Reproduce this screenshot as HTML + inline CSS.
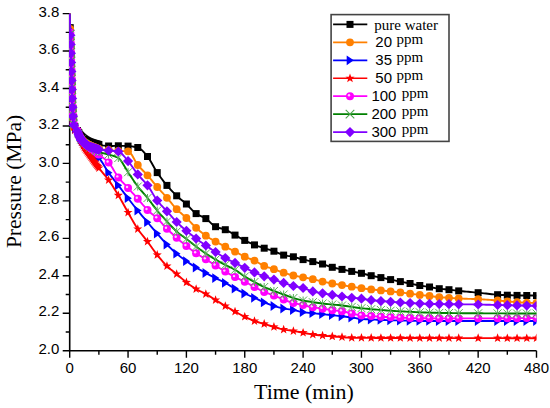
<!DOCTYPE html>
<html><head><meta charset="utf-8"><style>
html,body{margin:0;padding:0;background:#fff;width:550px;height:408px;overflow:hidden}
svg{display:block}
.serif{font-family:"Liberation Serif",serif}
</style></head><body>
<svg width="550" height="408" viewBox="0 0 550 408">
<defs><clipPath id="pc"><rect x="69" y="13.6" width="467.5" height="337.1"/></clipPath></defs>
<rect width="550" height="408" fill="#fff"/>
<path d="M69.7 13.6V350.7H536.5" fill="none" stroke="#000" stroke-width="1.6"/>
<path d="M62.7 350.7H69.7 M65.7 331.97H69.7 M62.7 313.24H69.7 M65.7 294.52H69.7 M62.7 275.79H69.7 M65.7 257.06H69.7 M62.7 238.33H69.7 M65.7 219.61H69.7 M62.7 200.88H69.7 M65.7 182.15H69.7 M62.7 163.42H69.7 M65.7 144.69H69.7 M62.7 125.97H69.7 M65.7 107.24H69.7 M62.7 88.51H69.7 M65.7 69.78H69.7 M62.7 51.06H69.7 M65.7 32.33H69.7 M62.7 13.6H69.7 M69.7 350.7V357.7 M98.88 350.7V354.7 M128.05 350.7V357.7 M157.23 350.7V354.7 M186.4 350.7V357.7 M215.57 350.7V354.7 M244.75 350.7V357.7 M273.93 350.7V354.7 M303.1 350.7V357.7 M332.27 350.7V354.7 M361.45 350.7V357.7 M390.62 350.7V354.7 M419.8 350.7V357.7 M448.98 350.7V354.7 M478.15 350.7V357.7 M507.32 350.7V354.7 M536.5 350.7V357.7" fill="none" stroke="#000" stroke-width="1.4"/>
<g clip-path="url(#pc)">
<polyline points="69.7,13.6 69.94,19.95 70.19,26.57 70.43,33.44 70.67,40.55 70.92,47.96 71.16,55.74 71.4,63.74 71.64,71.79 71.89,79.96 72.13,88.26 72.37,95.49 72.62,101.91 72.86,106.75 73.1,110.78 73.35,114.26 73.59,117.15 73.83,119.41 74.08,121.38 74.32,123.2 74.56,124.81 74.81,126.17 75.05,127.23 75.29,127.95 75.53,128.4 75.78,128.76 76.02,129.05 76.26,129.29 76.51,129.51 76.75,129.71 76.99,129.94 77.24,130.19 77.48,130.5 77.72,130.88 77.97,131.31 78.21,131.79 78.45,132.27 78.7,132.76 78.94,133.22 79.18,133.64 79.42,134 79.67,134.31 79.91,134.62 80.15,134.91 80.4,135.19 80.64,135.47 80.88,135.73 81.13,135.99 81.37,136.24 81.61,136.48 81.86,136.71 82.1,136.94 82.34,137.15 82.59,137.37 82.83,137.57 83.07,137.77 83.31,137.97 83.56,138.16 83.8,138.34 84.04,138.52 84.29,138.7 84.53,138.87 84.77,139.04 85.02,139.21 85.26,139.37 85.5,139.53 85.75,139.69 85.99,139.84 86.23,139.99 86.48,140.13 86.72,140.27 86.96,140.41 87.2,140.55 87.45,140.68 87.69,140.81 87.93,140.93 88.18,141.05 88.42,141.17 88.66,141.28 88.91,141.39 89.15,141.5 89.39,141.6 89.64,141.71 89.88,141.8 90.12,141.9 90.37,141.99 90.61,142.09 90.85,142.17 91.09,142.26 91.34,142.35 91.58,142.43 91.82,142.51 92.07,142.59 92.31,142.67 92.55,142.75 92.8,142.83 93.04,142.9 93.28,142.98 93.53,143.05 93.77,143.13 94.01,143.2 94.26,143.27 94.5,143.35 94.74,143.42 94.98,143.49 95.23,143.56 95.47,143.64 95.71,143.71 95.96,143.78 96.2,143.84 96.44,143.91 96.69,143.98 96.93,144.04 97.17,144.11 97.42,144.17 97.66,144.23 97.9,144.29 98.15,144.34 98.39,144.4 98.63,144.45 98.88,144.5 100.82,144.91 102.77,145.31 104.71,145.66 106.66,145.91 108.6,146 110.55,145.98 112.49,145.93 114.44,145.87 116.38,145.82 118.33,145.8 120.27,145.82 122.22,145.86 124.16,145.92 126.11,146.01 128.05,146.1 130,146.23 131.94,146.43 133.88,146.71 135.83,147.06 137.78,147.5 139.72,148.38 141.67,149.91 143.61,151.9 145.56,154.16 147.5,156.5 149.44,159.2 151.39,162.46 153.34,165.99 155.28,169.47 157.23,172.6 159.17,175.39 161.12,178.06 163.06,180.61 165,183.06 166.95,185.4 168.9,187.66 170.84,189.83 172.79,191.92 174.73,193.91 176.68,195.8 178.62,197.54 180.56,199.16 182.51,200.72 184.46,202.31 186.4,204 188.35,205.92 190.29,208.02 192.24,210.12 194.18,212.04 196.12,213.6 198.07,214.76 200.01,215.71 201.96,216.58 203.91,217.5 205.85,218.6 207.8,220.09 209.74,221.92 211.69,223.81 213.63,225.5 215.57,226.7 217.52,227.45 219.47,228.02 221.41,228.51 223.36,229.03 225.3,229.7 227.25,230.58 229.19,231.64 231.13,232.8 233.08,233.98 235.03,235.1 236.97,236.18 238.92,237.27 240.86,238.35 242.81,239.4 244.75,240.4 246.69,241.37 248.64,242.32 250.59,243.23 252.53,244.1 254.48,244.9 256.42,245.63 258.37,246.31 260.31,246.95 262.25,247.58 264.2,248.2 266.14,248.81 268.09,249.38 270.04,249.96 271.98,250.55 273.93,251.2 275.87,251.96 277.81,252.83 279.76,253.71 281.7,254.5 283.65,255.1 285.6,255.51 287.54,255.84 289.49,256.12 291.43,256.43 293.38,256.8 295.32,257.29 297.26,257.87 299.21,258.48 301.16,259.08 303.1,259.6 305.05,260.04 306.99,260.43 308.94,260.81 310.88,261.19 312.82,261.6 314.77,262.04 316.72,262.49 318.66,262.96 320.61,263.46 322.55,264 324.5,264.62 326.44,265.32 328.38,266.04 330.33,266.72 332.27,267.3 334.22,267.78 336.17,268.21 338.11,268.61 340.06,269 342,269.4 343.94,269.81 345.89,270.21 347.83,270.61 349.78,271.01 351.73,271.4 353.67,271.78 355.62,272.15 357.56,272.51 359.5,272.89 361.45,273.3 363.39,273.75 365.34,274.25 367.29,274.75 369.23,275.25 371.18,275.7 373.12,276.11 375.06,276.49 377.01,276.85 378.95,277.22 380.9,277.6 382.84,277.99 384.79,278.39 386.74,278.8 388.68,279.2 390.62,279.6 392.57,280 394.51,280.4 396.46,280.81 398.4,281.21 400.35,281.6 402.3,281.98 404.24,282.36 406.19,282.74 408.13,283.12 410.07,283.5 412.02,283.9 413.96,284.32 415.91,284.74 417.86,285.13 419.8,285.5 421.75,285.82 423.69,286.12 425.63,286.41 427.58,286.69 429.52,287 431.47,287.34 433.42,287.71 435.36,288.07 437.31,288.41 439.25,288.7 441.19,288.93 443.14,289.13 445.08,289.31 447.03,289.5 448.98,289.7 450.92,289.93 452.87,290.18 454.81,290.43 456.75,290.68 458.7,290.9 460.64,291.1 462.59,291.29 464.54,291.48 466.48,291.65 468.43,291.82 470.37,291.99 472.31,292.16 474.26,292.34 476.2,292.51 478.15,292.7 480.1,292.9 482.04,293.11 483.99,293.33 485.93,293.55 487.88,293.78 489.82,293.99 491.76,294.2 493.71,294.39 495.66,294.56 497.6,294.7 499.55,294.83 501.49,294.94 503.44,295.04 505.38,295.13 507.32,295.2 509.27,295.25 511.21,295.3 513.16,295.34 515.11,295.37 517.05,295.4 519,295.42 520.94,295.44 522.88,295.46 524.83,295.48 526.77,295.5 528.72,295.52 530.67,295.54 532.61,295.56 534.56,295.58 536.5,295.6" fill="none" stroke="#000" stroke-width="1.9" stroke-linejoin="round"/>
<rect x="66.73" y="24.15" width="7" height="7" fill="#000"/>
<rect x="67.04" y="33.18" width="7" height="7" fill="#000"/>
<rect x="67.34" y="42.19" width="7" height="7" fill="#000"/>
<rect x="67.62" y="51.13" width="7" height="7" fill="#000"/>
<rect x="67.9" y="60.07" width="7" height="7" fill="#000"/>
<rect x="68.17" y="69.1" width="7" height="7" fill="#000"/>
<rect x="68.44" y="78.15" width="7" height="7" fill="#000"/>
<rect x="68.71" y="87.2" width="7" height="7" fill="#000"/>
<rect x="69.03" y="96.11" width="7" height="7" fill="#000"/>
<rect x="69.47" y="105.09" width="7" height="7" fill="#000"/>
<rect x="70.13" y="114.05" width="7" height="7" fill="#000"/>
<rect x="71.36" y="122.93" width="7" height="7" fill="#000"/>
<rect x="73.98" y="127" width="7" height="7" fill="#000"/>
<rect x="74.95" y="128.77" width="7" height="7" fill="#000"/>
<rect x="75.92" y="130.5" width="7" height="7" fill="#000"/>
<rect x="76.9" y="131.69" width="7" height="7" fill="#000"/>
<rect x="77.87" y="132.74" width="7" height="7" fill="#000"/>
<rect x="78.84" y="133.65" width="7" height="7" fill="#000"/>
<rect x="79.81" y="134.47" width="7" height="7" fill="#000"/>
<rect x="80.79" y="135.2" width="7" height="7" fill="#000"/>
<rect x="81.76" y="135.87" width="7" height="7" fill="#000"/>
<rect x="82.73" y="136.49" width="7" height="7" fill="#000"/>
<rect x="83.7" y="137.05" width="7" height="7" fill="#000"/>
<rect x="84.68" y="137.55" width="7" height="7" fill="#000"/>
<rect x="85.65" y="138" width="7" height="7" fill="#000"/>
<rect x="86.62" y="138.4" width="7" height="7" fill="#000"/>
<rect x="87.59" y="138.76" width="7" height="7" fill="#000"/>
<rect x="88.57" y="139.09" width="7" height="7" fill="#000"/>
<rect x="89.54" y="139.4" width="7" height="7" fill="#000"/>
<rect x="90.51" y="139.7" width="7" height="7" fill="#000"/>
<rect x="91.48" y="139.99" width="7" height="7" fill="#000"/>
<rect x="92.46" y="140.28" width="7" height="7" fill="#000"/>
<rect x="93.43" y="140.54" width="7" height="7" fill="#000"/>
<rect x="94.4" y="140.79" width="7" height="7" fill="#000"/>
<rect x="95.38" y="141" width="7" height="7" fill="#000"/>
<rect x="105.1" y="142.5" width="7" height="7" fill="#000"/>
<rect x="114.83" y="142.3" width="7" height="7" fill="#000"/>
<rect x="124.55" y="142.6" width="7" height="7" fill="#000"/>
<rect x="134.28" y="144" width="7" height="7" fill="#000"/>
<rect x="144" y="153" width="7" height="7" fill="#000"/>
<rect x="153.73" y="169.1" width="7" height="7" fill="#000"/>
<rect x="163.45" y="181.9" width="7" height="7" fill="#000"/>
<rect x="173.18" y="192.3" width="7" height="7" fill="#000"/>
<rect x="182.9" y="200.5" width="7" height="7" fill="#000"/>
<rect x="192.62" y="210.1" width="7" height="7" fill="#000"/>
<rect x="202.35" y="215.1" width="7" height="7" fill="#000"/>
<rect x="212.07" y="223.2" width="7" height="7" fill="#000"/>
<rect x="221.8" y="226.2" width="7" height="7" fill="#000"/>
<rect x="231.53" y="231.6" width="7" height="7" fill="#000"/>
<rect x="241.25" y="236.9" width="7" height="7" fill="#000"/>
<rect x="250.98" y="241.4" width="7" height="7" fill="#000"/>
<rect x="260.7" y="244.7" width="7" height="7" fill="#000"/>
<rect x="270.43" y="247.7" width="7" height="7" fill="#000"/>
<rect x="280.15" y="251.6" width="7" height="7" fill="#000"/>
<rect x="289.88" y="253.3" width="7" height="7" fill="#000"/>
<rect x="299.6" y="256.1" width="7" height="7" fill="#000"/>
<rect x="309.32" y="258.1" width="7" height="7" fill="#000"/>
<rect x="319.05" y="260.5" width="7" height="7" fill="#000"/>
<rect x="328.77" y="263.8" width="7" height="7" fill="#000"/>
<rect x="338.5" y="265.9" width="7" height="7" fill="#000"/>
<rect x="348.23" y="267.9" width="7" height="7" fill="#000"/>
<rect x="357.95" y="269.8" width="7" height="7" fill="#000"/>
<rect x="367.68" y="272.2" width="7" height="7" fill="#000"/>
<rect x="377.4" y="274.1" width="7" height="7" fill="#000"/>
<rect x="387.12" y="276.1" width="7" height="7" fill="#000"/>
<rect x="396.85" y="278.1" width="7" height="7" fill="#000"/>
<rect x="406.57" y="280" width="7" height="7" fill="#000"/>
<rect x="416.3" y="282" width="7" height="7" fill="#000"/>
<rect x="426.02" y="283.5" width="7" height="7" fill="#000"/>
<rect x="435.75" y="285.2" width="7" height="7" fill="#000"/>
<rect x="445.48" y="286.2" width="7" height="7" fill="#000"/>
<rect x="455.2" y="287.4" width="7" height="7" fill="#000"/>
<rect x="474.65" y="289.2" width="7" height="7" fill="#000"/>
<rect x="494.1" y="291.2" width="7" height="7" fill="#000"/>
<rect x="503.82" y="291.7" width="7" height="7" fill="#000"/>
<rect x="513.55" y="291.9" width="7" height="7" fill="#000"/>
<rect x="523.27" y="292" width="7" height="7" fill="#000"/>
<rect x="533" y="292.1" width="7" height="7" fill="#000"/>
<polyline points="69.7,13.6 69.94,21.49 70.19,29.77 70.43,38.44 70.67,47.51 70.92,57.14 71.16,67.06 71.4,77.01 71.64,87.32 71.89,96.3 72.13,103.82 72.37,109.19 72.62,113.69 72.86,117.3 73.1,120.01 73.35,122.41 73.59,124.54 73.83,126.28 74.08,127.51 74.32,128.13 74.56,128.52 74.81,128.84 75.05,129.09 75.29,129.3 75.53,129.48 75.78,129.63 76.02,129.77 76.26,129.91 76.51,130.05 76.75,130.23 76.99,130.43 77.24,130.69 77.48,131 77.72,131.43 77.97,132.01 78.21,132.69 78.45,133.42 78.7,134.16 78.94,134.87 79.18,135.5 79.42,136 79.67,136.42 79.91,136.82 80.15,137.21 80.4,137.59 80.64,137.95 80.88,138.3 81.13,138.63 81.37,138.96 81.61,139.27 81.86,139.57 82.1,139.85 82.34,140.13 82.59,140.4 82.83,140.65 83.07,140.9 83.31,141.14 83.56,141.37 83.8,141.58 84.04,141.8 84.29,142 84.53,142.2 84.77,142.39 85.02,142.57 85.26,142.75 85.5,142.92 85.75,143.08 85.99,143.25 86.23,143.4 86.48,143.55 86.72,143.7 86.96,143.84 87.2,143.98 87.45,144.12 87.69,144.25 87.93,144.38 88.18,144.51 88.42,144.63 88.66,144.76 88.91,144.88 89.15,145 89.39,145.12 89.64,145.23 89.88,145.35 90.12,145.45 90.37,145.56 90.61,145.67 90.85,145.77 91.09,145.87 91.34,145.97 91.58,146.06 91.82,146.16 92.07,146.25 92.31,146.35 92.55,146.44 92.8,146.53 93.04,146.63 93.28,146.72 93.53,146.81 93.77,146.91 94.01,147 94.26,147.1 94.5,147.2 94.74,147.3 94.98,147.4 95.23,147.5 95.47,147.61 95.71,147.71 95.96,147.81 96.2,147.92 96.44,148.02 96.69,148.12 96.93,148.21 97.17,148.3 97.42,148.39 97.66,148.47 97.9,148.55 98.15,148.62 98.39,148.69 98.63,148.75 98.88,148.8 100.82,149.13 102.77,149.39 104.71,149.6 106.66,149.8 108.6,150 110.55,150.23 112.49,150.46 114.44,150.69 116.38,150.87 118.33,151 120.27,151.07 122.22,151.12 124.16,151.15 126.11,151.21 128.05,151.3 130,152.42 131.94,155.08 133.88,158.54 135.83,162.09 137.78,165 139.72,167.23 141.67,169.27 143.61,171.23 145.56,173.2 147.5,175.3 149.44,177.56 151.39,179.92 153.34,182.32 155.28,184.7 157.23,187 159.17,189.21 161.12,191.35 163.06,193.48 165,195.62 166.95,197.8 168.9,200.09 170.84,202.46 172.79,204.82 174.73,207.1 176.68,209.2 178.62,211.09 180.56,212.84 182.51,214.52 184.46,216.22 186.4,218 188.35,219.93 190.29,221.95 192.24,223.98 194.18,225.96 196.12,227.8 198.07,229.53 200.01,231.19 201.96,232.79 203.91,234.29 205.85,235.7 207.8,237 209.74,238.22 211.69,239.38 213.63,240.5 215.57,241.6 217.52,242.67 219.47,243.7 221.41,244.71 223.36,245.7 225.3,246.7 227.25,247.69 229.19,248.66 231.13,249.64 233.08,250.61 235.03,251.6 236.97,252.63 238.92,253.69 240.86,254.75 242.81,255.76 244.75,256.7 246.69,257.53 248.64,258.28 250.59,259 252.53,259.76 254.48,260.6 256.42,261.6 258.37,262.72 260.31,263.88 262.25,264.97 264.2,265.9 266.14,266.66 268.09,267.32 270.04,267.94 271.98,268.55 273.93,269.2 275.87,269.9 277.81,270.62 279.76,271.35 281.7,272.05 283.65,272.7 285.6,273.32 287.54,273.92 289.49,274.5 291.43,275.03 293.38,275.5 295.32,275.91 297.26,276.27 299.21,276.61 301.16,276.95 303.1,277.3 305.05,277.67 306.99,278.03 308.94,278.4 310.88,278.79 312.82,279.2 314.77,279.65 316.72,280.15 318.66,280.65 320.61,281.15 322.55,281.6 324.5,282.01 326.44,282.41 328.38,282.78 330.33,283.15 332.27,283.5 334.22,283.84 336.17,284.16 338.11,284.47 340.06,284.78 342,285.1 343.94,285.42 345.89,285.74 347.83,286.07 349.78,286.39 351.73,286.7 353.67,287.01 355.62,287.32 357.56,287.63 359.5,287.92 361.45,288.2 363.39,288.46 365.34,288.71 367.29,288.95 369.23,289.18 371.18,289.4 373.12,289.61 375.06,289.81 377.01,290.01 378.95,290.2 380.9,290.4 382.84,290.6 384.79,290.8 386.74,291 388.68,291.2 390.62,291.4 392.57,291.6 394.51,291.79 396.46,291.98 398.4,292.18 400.35,292.4 402.3,292.64 404.24,292.9 406.19,293.17 408.13,293.44 410.07,293.7 412.02,293.95 413.96,294.19 415.91,294.43 417.86,294.67 419.8,294.9 421.75,295.12 423.69,295.34 425.63,295.56 427.58,295.78 429.52,296 431.47,296.25 433.42,296.51 435.36,296.77 437.31,297.01 439.25,297.2 441.19,297.34 443.14,297.46 445.08,297.57 447.03,297.68 448.98,297.8 450.92,297.94 452.87,298.09 454.81,298.25 456.75,298.39 458.7,298.5 460.64,298.59 462.59,298.67 464.54,298.74 466.48,298.8 468.43,298.86 470.37,298.92 472.31,298.98 474.26,299.04 476.2,299.12 478.15,299.2 480.1,299.3 482.04,299.4 483.99,299.52 485.93,299.64 487.88,299.77 489.82,299.91 491.76,300.05 493.71,300.2 495.66,300.35 497.6,300.5 499.55,300.66 501.49,300.85 503.44,301.04 505.38,301.22 507.32,301.4 509.27,301.57 511.21,301.74 513.16,301.91 515.11,302.07 517.05,302.2 519,302.32 520.94,302.43 522.88,302.53 524.83,302.62 526.77,302.7 528.72,302.77 530.67,302.84 532.61,302.9 534.56,302.96 536.5,303" fill="none" stroke="#FF8000" stroke-width="1.9" stroke-linejoin="round"/>
<circle cx="70.16" cy="28.93" r="3.9" fill="#FF8000"/>
<circle cx="70.41" cy="37.91" r="3.9" fill="#FF8000"/>
<circle cx="70.66" cy="46.95" r="3.9" fill="#FF8000"/>
<circle cx="70.89" cy="55.96" r="3.9" fill="#FF8000"/>
<circle cx="71.11" cy="65.06" r="3.9" fill="#FF8000"/>
<circle cx="71.33" cy="74.01" r="3.9" fill="#FF8000"/>
<circle cx="71.54" cy="83.03" r="3.9" fill="#FF8000"/>
<circle cx="71.77" cy="92" r="3.9" fill="#FF8000"/>
<circle cx="72.03" cy="100.93" r="3.9" fill="#FF8000"/>
<circle cx="72.41" cy="109.87" r="3.9" fill="#FF8000"/>
<circle cx="72.99" cy="118.85" r="3.9" fill="#FF8000"/>
<circle cx="74.14" cy="127.75" r="3.9" fill="#FF8000"/>
<circle cx="77.48" cy="131" r="3.9" fill="#FF8000"/>
<circle cx="78.45" cy="133.42" r="3.9" fill="#FF8000"/>
<circle cx="79.42" cy="136" r="3.9" fill="#FF8000"/>
<circle cx="80.4" cy="137.59" r="3.9" fill="#FF8000"/>
<circle cx="81.37" cy="138.96" r="3.9" fill="#FF8000"/>
<circle cx="82.34" cy="140.13" r="3.9" fill="#FF8000"/>
<circle cx="83.31" cy="141.14" r="3.9" fill="#FF8000"/>
<circle cx="84.29" cy="142" r="3.9" fill="#FF8000"/>
<circle cx="85.26" cy="142.75" r="3.9" fill="#FF8000"/>
<circle cx="86.23" cy="143.4" r="3.9" fill="#FF8000"/>
<circle cx="87.2" cy="143.98" r="3.9" fill="#FF8000"/>
<circle cx="88.18" cy="144.51" r="3.9" fill="#FF8000"/>
<circle cx="89.15" cy="145" r="3.9" fill="#FF8000"/>
<circle cx="90.12" cy="145.45" r="3.9" fill="#FF8000"/>
<circle cx="91.09" cy="145.87" r="3.9" fill="#FF8000"/>
<circle cx="92.07" cy="146.25" r="3.9" fill="#FF8000"/>
<circle cx="93.04" cy="146.63" r="3.9" fill="#FF8000"/>
<circle cx="94.01" cy="147" r="3.9" fill="#FF8000"/>
<circle cx="94.98" cy="147.4" r="3.9" fill="#FF8000"/>
<circle cx="95.96" cy="147.81" r="3.9" fill="#FF8000"/>
<circle cx="96.93" cy="148.21" r="3.9" fill="#FF8000"/>
<circle cx="97.9" cy="148.55" r="3.9" fill="#FF8000"/>
<circle cx="98.88" cy="148.8" r="3.9" fill="#FF8000"/>
<circle cx="108.6" cy="150" r="3.9" fill="#FF8000"/>
<circle cx="118.33" cy="151" r="3.9" fill="#FF8000"/>
<circle cx="128.05" cy="151.3" r="3.9" fill="#FF8000"/>
<circle cx="137.78" cy="165" r="3.9" fill="#FF8000"/>
<circle cx="147.5" cy="175.3" r="3.9" fill="#FF8000"/>
<circle cx="157.23" cy="187" r="3.9" fill="#FF8000"/>
<circle cx="166.95" cy="197.8" r="3.9" fill="#FF8000"/>
<circle cx="176.68" cy="209.2" r="3.9" fill="#FF8000"/>
<circle cx="186.4" cy="218" r="3.9" fill="#FF8000"/>
<circle cx="196.12" cy="227.8" r="3.9" fill="#FF8000"/>
<circle cx="205.85" cy="235.7" r="3.9" fill="#FF8000"/>
<circle cx="215.57" cy="241.6" r="3.9" fill="#FF8000"/>
<circle cx="225.3" cy="246.7" r="3.9" fill="#FF8000"/>
<circle cx="235.03" cy="251.6" r="3.9" fill="#FF8000"/>
<circle cx="244.75" cy="256.7" r="3.9" fill="#FF8000"/>
<circle cx="254.48" cy="260.6" r="3.9" fill="#FF8000"/>
<circle cx="264.2" cy="265.9" r="3.9" fill="#FF8000"/>
<circle cx="273.93" cy="269.2" r="3.9" fill="#FF8000"/>
<circle cx="283.65" cy="272.7" r="3.9" fill="#FF8000"/>
<circle cx="293.38" cy="275.5" r="3.9" fill="#FF8000"/>
<circle cx="303.1" cy="277.3" r="3.9" fill="#FF8000"/>
<circle cx="312.82" cy="279.2" r="3.9" fill="#FF8000"/>
<circle cx="322.55" cy="281.6" r="3.9" fill="#FF8000"/>
<circle cx="332.27" cy="283.5" r="3.9" fill="#FF8000"/>
<circle cx="342" cy="285.1" r="3.9" fill="#FF8000"/>
<circle cx="351.73" cy="286.7" r="3.9" fill="#FF8000"/>
<circle cx="361.45" cy="288.2" r="3.9" fill="#FF8000"/>
<circle cx="371.18" cy="289.4" r="3.9" fill="#FF8000"/>
<circle cx="380.9" cy="290.4" r="3.9" fill="#FF8000"/>
<circle cx="390.62" cy="291.4" r="3.9" fill="#FF8000"/>
<circle cx="400.35" cy="292.4" r="3.9" fill="#FF8000"/>
<circle cx="410.07" cy="293.7" r="3.9" fill="#FF8000"/>
<circle cx="419.8" cy="294.9" r="3.9" fill="#FF8000"/>
<circle cx="429.52" cy="296" r="3.9" fill="#FF8000"/>
<circle cx="439.25" cy="297.2" r="3.9" fill="#FF8000"/>
<circle cx="448.98" cy="297.8" r="3.9" fill="#FF8000"/>
<circle cx="458.7" cy="298.5" r="3.9" fill="#FF8000"/>
<circle cx="478.15" cy="299.2" r="3.9" fill="#FF8000"/>
<circle cx="497.6" cy="300.5" r="3.9" fill="#FF8000"/>
<circle cx="507.32" cy="301.4" r="3.9" fill="#FF8000"/>
<circle cx="517.05" cy="302.2" r="3.9" fill="#FF8000"/>
<circle cx="526.77" cy="302.7" r="3.9" fill="#FF8000"/>
<circle cx="536.5" cy="303" r="3.9" fill="#FF8000"/>
<polyline points="69.7,13.6 69.94,20.64 70.19,28 70.43,35.66 70.67,43.62 70.92,52.02 71.16,60.77 71.4,69.68 71.64,78.63 71.89,87.84 72.13,95.85 72.37,102.79 72.62,107.86 72.86,112.13 73.1,115.7 73.35,118.53 73.59,120.78 73.83,122.85 74.08,124.68 74.32,126.2 74.56,127.35 74.81,128.05 75.05,128.49 75.29,128.85 75.53,129.13 75.78,129.37 76.02,129.57 76.26,129.76 76.51,129.94 76.75,130.14 76.99,130.37 77.24,130.65 77.48,131 77.72,131.46 77.97,132.03 78.21,132.68 78.45,133.38 78.7,134.1 78.94,134.8 79.18,135.44 79.42,136 79.67,136.5 79.91,136.98 80.15,137.45 80.4,137.9 80.64,138.34 80.88,138.78 81.13,139.2 81.37,139.61 81.61,140.01 81.86,140.4 82.1,140.79 82.34,141.16 82.59,141.53 82.83,141.9 83.07,142.26 83.31,142.61 83.56,142.96 83.8,143.31 84.04,143.66 84.29,144 84.53,144.34 84.77,144.68 85.02,145.02 85.26,145.35 85.5,145.68 85.75,146 85.99,146.32 86.23,146.64 86.48,146.95 86.72,147.26 86.96,147.56 87.2,147.86 87.45,148.15 87.69,148.43 87.93,148.71 88.18,148.98 88.42,149.25 88.66,149.5 88.91,149.76 89.15,150 89.39,150.24 89.64,150.46 89.88,150.69 90.12,150.9 90.37,151.11 90.61,151.32 90.85,151.52 91.09,151.72 91.34,151.91 91.58,152.1 91.82,152.29 92.07,152.48 92.31,152.66 92.55,152.85 92.8,153.04 93.04,153.23 93.28,153.42 93.53,153.61 93.77,153.8 94.01,154 94.26,154.2 94.5,154.39 94.74,154.58 94.98,154.77 95.23,154.95 95.47,155.14 95.71,155.32 95.96,155.5 96.2,155.69 96.44,155.87 96.69,156.06 96.93,156.25 97.17,156.45 97.42,156.65 97.66,156.86 97.9,157.07 98.15,157.29 98.39,157.52 98.63,157.75 98.88,158 100.82,160.38 102.77,163.32 104.71,166.53 106.66,169.76 108.6,172.7 110.55,175.34 112.49,177.87 114.44,180.33 116.38,182.79 118.33,185.3 120.27,187.87 122.22,190.46 124.16,193.06 126.11,195.65 128.05,198.2 130,200.72 131.94,203.23 133.88,205.72 135.83,208.18 137.78,210.6 139.72,212.97 141.67,215.31 143.61,217.61 145.56,219.91 147.5,222.2 149.44,224.5 151.39,226.8 153.34,229.09 155.28,231.36 157.23,233.6 159.17,235.84 161.12,238.08 163.06,240.3 165,242.45 166.95,244.5 168.9,246.47 170.84,248.38 172.79,250.23 174.73,252 176.68,253.7 178.62,255.32 180.56,256.87 182.51,258.37 184.46,259.81 186.4,261.2 188.35,262.54 190.29,263.84 192.24,265.09 194.18,266.31 196.12,267.5 198.07,268.65 200.01,269.77 201.96,270.87 203.91,271.94 205.85,273 207.8,274.05 209.74,275.08 211.69,276.1 213.63,277.11 215.57,278.1 217.52,279.07 219.47,280 221.41,280.93 223.36,281.89 225.3,282.9 227.25,283.99 229.19,285.15 231.13,286.34 233.08,287.5 235.03,288.6 236.97,289.64 238.92,290.64 240.86,291.62 242.81,292.57 244.75,293.5 246.69,294.39 248.64,295.25 250.59,296.09 252.53,296.93 254.48,297.8 256.42,298.72 258.37,299.67 260.31,300.63 262.25,301.55 264.2,302.4 266.14,303.2 268.09,303.97 270.04,304.7 271.98,305.38 273.93,306 275.87,306.58 277.81,307.12 279.76,307.63 281.7,308.09 283.65,308.5 285.6,308.84 287.54,309.13 289.49,309.4 291.43,309.68 293.38,310 295.32,310.41 297.26,310.9 299.21,311.4 301.16,311.85 303.1,312.2 305.05,312.45 306.99,312.65 308.94,312.83 310.88,313.01 312.82,313.2 314.77,313.4 316.72,313.61 318.66,313.81 320.61,314.01 322.55,314.21 324.5,314.41 326.44,314.61 328.38,314.81 330.33,315.01 332.27,315.22 334.22,315.42 336.17,315.64 338.11,315.85 340.06,316.07 342,316.29 343.94,316.52 345.89,316.76 347.83,317 349.78,317.24 351.73,317.5 353.67,317.8 355.62,318.16 357.56,318.52 359.5,318.82 361.45,319 363.39,319.1 365.34,319.2 367.29,319.3 369.23,319.4 371.18,319.49 373.12,319.58 375.06,319.66 377.01,319.75 378.95,319.83 380.9,319.9 382.84,319.98 384.79,320.05 386.74,320.12 388.68,320.19 390.62,320.25 392.57,320.31 394.51,320.37 396.46,320.42 398.4,320.48 400.35,320.53 402.3,320.57 404.24,320.62 406.19,320.66 408.13,320.7 410.07,320.74 412.02,320.77 413.96,320.8 415.91,320.83 417.86,320.86 419.8,320.88 421.75,320.91 423.69,320.93 425.63,320.94 427.58,320.96 429.52,320.97 431.47,320.98 433.42,320.99 435.36,321 437.31,321 439.25,321 441.19,321 443.14,321 445.08,321 447.03,321 448.98,321 450.92,321 452.87,321 454.81,321 456.75,321 458.7,321 460.64,321 462.59,321 464.54,321 466.48,321 468.43,321 470.37,321 472.31,321 474.26,321 476.2,321 478.15,321 480.1,321 482.04,321 483.99,321 485.93,321 487.88,321 489.82,321 491.76,321 493.71,321 495.66,321 497.6,321 499.55,321 501.49,321 503.44,321 505.38,321 507.32,321 509.27,321 511.21,321 513.16,321 515.11,321 517.05,321 519,321 520.94,321 522.88,321 524.83,321 526.77,321 528.72,321 530.67,321 532.61,321 534.56,321 536.5,321" fill="none" stroke="#0000FF" stroke-width="1.9" stroke-linejoin="round"/>
<path d="M66.96 25.36L74.06 30.26L66.96 35.16Z" fill="#0000FF"/>
<path d="M67.24 34.38L74.34 39.28L67.24 44.18Z" fill="#0000FF"/>
<path d="M67.51 43.37L74.61 48.27L67.51 53.17Z" fill="#0000FF"/>
<path d="M67.76 52.34L74.86 57.24L67.76 62.14Z" fill="#0000FF"/>
<path d="M68.01 61.39L75.11 66.29L68.01 71.19Z" fill="#0000FF"/>
<path d="M68.25 70.28L75.35 75.18L68.25 80.08Z" fill="#0000FF"/>
<path d="M68.49 79.32L75.59 84.22L68.49 89.12Z" fill="#0000FF"/>
<path d="M68.75 88.34L75.85 93.24L68.75 98.14Z" fill="#0000FF"/>
<path d="M69.05 97.28L76.15 102.18L69.05 107.08Z" fill="#0000FF"/>
<path d="M69.5 106.26L76.6 111.16L69.5 116.06Z" fill="#0000FF"/>
<path d="M70.22 115.22L77.32 120.12L70.22 125.02Z" fill="#0000FF"/>
<path d="M71.98 123.93L79.08 128.83L71.98 133.73Z" fill="#0000FF"/>
<path d="M74.18 126.1L81.28 131L74.18 135.9Z" fill="#0000FF"/>
<path d="M75.15 128.48L82.25 133.38L75.15 138.28Z" fill="#0000FF"/>
<path d="M76.12 131.1L83.22 136L76.12 140.9Z" fill="#0000FF"/>
<path d="M77.1 133L84.2 137.9L77.1 142.8Z" fill="#0000FF"/>
<path d="M78.07 134.71L85.17 139.61L78.07 144.51Z" fill="#0000FF"/>
<path d="M79.04 136.26L86.14 141.16L79.04 146.06Z" fill="#0000FF"/>
<path d="M80.02 137.71L87.11 142.61L80.02 147.51Z" fill="#0000FF"/>
<path d="M80.99 139.1L88.09 144L80.99 148.9Z" fill="#0000FF"/>
<path d="M81.96 140.45L89.06 145.35L81.96 150.25Z" fill="#0000FF"/>
<path d="M82.93 141.74L90.03 146.64L82.93 151.54Z" fill="#0000FF"/>
<path d="M83.91 142.96L91 147.86L83.91 152.76Z" fill="#0000FF"/>
<path d="M84.88 144.08L91.98 148.98L84.88 153.88Z" fill="#0000FF"/>
<path d="M85.85 145.1L92.95 150L85.85 154.9Z" fill="#0000FF"/>
<path d="M86.82 146L93.92 150.9L86.82 155.8Z" fill="#0000FF"/>
<path d="M87.8 146.82L94.89 151.72L87.8 156.62Z" fill="#0000FF"/>
<path d="M88.77 147.58L95.87 152.48L88.77 157.38Z" fill="#0000FF"/>
<path d="M89.74 148.33L96.84 153.23L89.74 158.13Z" fill="#0000FF"/>
<path d="M90.71 149.1L97.81 154L90.71 158.9Z" fill="#0000FF"/>
<path d="M91.69 149.87L98.78 154.77L91.69 159.67Z" fill="#0000FF"/>
<path d="M92.66 150.6L99.76 155.5L92.66 160.4Z" fill="#0000FF"/>
<path d="M93.63 151.35L100.73 156.25L93.63 161.15Z" fill="#0000FF"/>
<path d="M94.6 152.17L101.7 157.07L94.6 161.97Z" fill="#0000FF"/>
<path d="M95.58 153.1L102.67 158L95.58 162.9Z" fill="#0000FF"/>
<path d="M105.3 167.8L112.4 172.7L105.3 177.6Z" fill="#0000FF"/>
<path d="M115.03 180.4L122.12 185.3L115.03 190.2Z" fill="#0000FF"/>
<path d="M124.75 193.3L131.85 198.2L124.75 203.1Z" fill="#0000FF"/>
<path d="M134.47 205.7L141.58 210.6L134.47 215.5Z" fill="#0000FF"/>
<path d="M144.2 217.3L151.3 222.2L144.2 227.1Z" fill="#0000FF"/>
<path d="M153.93 228.7L161.03 233.6L153.93 238.5Z" fill="#0000FF"/>
<path d="M163.65 239.6L170.75 244.5L163.65 249.4Z" fill="#0000FF"/>
<path d="M173.38 248.8L180.48 253.7L173.38 258.6Z" fill="#0000FF"/>
<path d="M183.1 256.3L190.2 261.2L183.1 266.1Z" fill="#0000FF"/>
<path d="M192.82 262.6L199.93 267.5L192.82 272.4Z" fill="#0000FF"/>
<path d="M202.55 268.1L209.65 273L202.55 277.9Z" fill="#0000FF"/>
<path d="M212.27 273.2L219.38 278.1L212.27 283Z" fill="#0000FF"/>
<path d="M222 278L229.1 282.9L222 287.8Z" fill="#0000FF"/>
<path d="M231.73 283.7L238.83 288.6L231.73 293.5Z" fill="#0000FF"/>
<path d="M241.45 288.6L248.55 293.5L241.45 298.4Z" fill="#0000FF"/>
<path d="M251.18 292.9L258.28 297.8L251.18 302.7Z" fill="#0000FF"/>
<path d="M260.9 297.5L268 302.4L260.9 307.3Z" fill="#0000FF"/>
<path d="M270.62 301.1L277.73 306L270.62 310.9Z" fill="#0000FF"/>
<path d="M280.35 303.6L287.45 308.5L280.35 313.4Z" fill="#0000FF"/>
<path d="M290.07 305.1L297.18 310L290.07 314.9Z" fill="#0000FF"/>
<path d="M299.8 307.3L306.9 312.2L299.8 317.1Z" fill="#0000FF"/>
<path d="M309.52 308.3L316.62 313.2L309.52 318.1Z" fill="#0000FF"/>
<path d="M319.25 309.31L326.35 314.21L319.25 319.11Z" fill="#0000FF"/>
<path d="M328.97 310.32L336.07 315.22L328.97 320.12Z" fill="#0000FF"/>
<path d="M338.7 311.39L345.8 316.29L338.7 321.19Z" fill="#0000FF"/>
<path d="M348.43 312.6L355.53 317.5L348.43 322.4Z" fill="#0000FF"/>
<path d="M358.15 314.1L365.25 319L358.15 323.9Z" fill="#0000FF"/>
<path d="M367.88 314.59L374.98 319.49L367.88 324.39Z" fill="#0000FF"/>
<path d="M377.6 315L384.7 319.9L377.6 324.8Z" fill="#0000FF"/>
<path d="M387.32 315.35L394.43 320.25L387.32 325.15Z" fill="#0000FF"/>
<path d="M397.05 315.63L404.15 320.53L397.05 325.43Z" fill="#0000FF"/>
<path d="M406.77 315.84L413.88 320.74L406.77 325.64Z" fill="#0000FF"/>
<path d="M416.5 315.98L423.6 320.88L416.5 325.78Z" fill="#0000FF"/>
<path d="M426.22 316.07L433.32 320.97L426.22 325.87Z" fill="#0000FF"/>
<path d="M435.95 316.1L443.05 321L435.95 325.9Z" fill="#0000FF"/>
<path d="M445.68 316.1L452.78 321L445.68 325.9Z" fill="#0000FF"/>
<path d="M455.4 316.1L462.5 321L455.4 325.9Z" fill="#0000FF"/>
<path d="M474.85 316.1L481.95 321L474.85 325.9Z" fill="#0000FF"/>
<path d="M494.3 316.1L501.4 321L494.3 325.9Z" fill="#0000FF"/>
<path d="M504.02 316.1L511.12 321L504.02 325.9Z" fill="#0000FF"/>
<path d="M513.75 316.1L520.85 321L513.75 325.9Z" fill="#0000FF"/>
<path d="M523.48 316.1L530.57 321L523.48 325.9Z" fill="#0000FF"/>
<path d="M533.2 316.1L540.3 321L533.2 325.9Z" fill="#0000FF"/>
<polyline points="69.7,13.6 69.94,22.57 70.19,32.05 70.43,42 70.67,52.59 70.92,63.74 71.16,75 71.4,86.65 71.64,96.86 71.89,105 72.13,110.78 72.37,115.49 72.62,119 72.86,121.77 73.1,124.21 73.35,126.2 73.59,127.58 73.83,128.31 74.08,128.86 74.32,129.33 74.56,129.72 74.81,130.06 75.05,130.35 75.29,130.61 75.53,130.83 75.78,131.04 76.02,131.25 76.26,131.46 76.51,131.69 76.75,131.95 76.99,132.25 77.24,132.59 77.48,133 77.72,133.49 77.97,134.07 78.21,134.71 78.45,135.39 78.7,136.08 78.94,136.76 79.18,137.41 79.42,138 79.67,138.55 79.91,139.09 80.15,139.62 80.4,140.14 80.64,140.65 80.88,141.16 81.13,141.66 81.37,142.16 81.61,142.64 81.86,143.12 82.1,143.59 82.34,144.05 82.59,144.51 82.83,144.96 83.07,145.4 83.31,145.83 83.56,146.26 83.8,146.68 84.04,147.09 84.29,147.5 84.53,147.9 84.77,148.29 85.02,148.66 85.26,149.04 85.5,149.4 85.75,149.76 85.99,150.11 86.23,150.45 86.48,150.79 86.72,151.13 86.96,151.47 87.2,151.8 87.45,152.13 87.69,152.47 87.93,152.8 88.18,153.13 88.42,153.47 88.66,153.81 88.91,154.15 89.15,154.5 89.39,154.85 89.64,155.2 89.88,155.55 90.12,155.91 90.37,156.26 90.61,156.62 90.85,156.97 91.09,157.32 91.34,157.68 91.58,158.03 91.82,158.39 92.07,158.74 92.31,159.09 92.55,159.44 92.8,159.79 93.04,160.13 93.28,160.48 93.53,160.82 93.77,161.16 94.01,161.5 94.26,161.84 94.5,162.17 94.74,162.51 94.98,162.84 95.23,163.17 95.47,163.5 95.71,163.83 95.96,164.15 96.2,164.48 96.44,164.81 96.69,165.13 96.93,165.45 97.17,165.77 97.42,166.1 97.66,166.42 97.9,166.73 98.15,167.05 98.39,167.37 98.63,167.68 98.88,168 100.82,170.44 102.77,172.78 104.71,175.11 106.66,177.52 108.6,180.1 110.55,182.89 112.49,185.84 114.44,188.92 116.38,192.08 118.33,195.3 120.27,198.62 122.22,202.06 124.16,205.57 126.11,209.07 128.05,212.5 130,215.91 131.94,219.36 133.88,222.75 135.83,225.99 137.78,229 139.72,231.73 141.67,234.25 143.61,236.67 145.56,239.09 147.5,241.6 149.44,244.25 151.39,246.98 153.34,249.71 155.28,252.37 157.23,254.9 159.17,257.32 161.12,259.7 163.06,261.99 165,264.14 166.95,266.1 168.9,267.85 170.84,269.43 172.79,270.94 174.73,272.43 176.68,274 178.62,275.68 180.56,277.42 182.51,279.16 184.46,280.84 186.4,282.4 188.35,283.85 190.29,285.24 192.24,286.57 194.18,287.82 196.12,289 198.07,290.07 200.01,291.06 201.96,292 203.91,292.96 205.85,294 207.8,295.13 209.74,296.32 211.69,297.55 213.63,298.78 215.57,300 217.52,301.21 219.47,302.42 221.41,303.63 223.36,304.83 225.3,306 227.25,307.15 229.19,308.29 231.13,309.42 233.08,310.52 235.03,311.6 236.97,312.66 238.92,313.72 240.86,314.75 242.81,315.74 244.75,316.7 246.69,317.63 248.64,318.55 250.59,319.44 252.53,320.26 254.48,321 256.42,321.65 258.37,322.24 260.31,322.79 262.25,323.33 264.2,323.9 266.14,324.5 268.09,325.11 270.04,325.73 271.98,326.33 273.93,326.9 275.87,327.47 277.81,328.03 279.76,328.58 281.7,329.08 283.65,329.5 285.6,329.85 287.54,330.15 289.49,330.43 291.43,330.7 293.38,331 295.32,331.32 297.26,331.66 299.21,332 301.16,332.35 303.1,332.7 305.05,333.07 306.99,333.45 308.94,333.84 310.88,334.19 312.82,334.5 314.77,334.76 316.72,334.99 318.66,335.21 320.61,335.41 322.55,335.6 324.5,335.78 326.44,335.94 328.38,336.1 330.33,336.25 332.27,336.4 334.22,336.55 336.17,336.69 338.11,336.82 340.06,336.96 342,337.1 343.94,337.26 345.89,337.44 347.83,337.61 349.78,337.74 351.73,337.8 353.67,337.82 355.62,337.83 357.56,337.84 359.5,337.86 361.45,337.87 363.39,337.88 365.34,337.89 367.29,337.9 369.23,337.91 371.18,337.91 373.12,337.92 375.06,337.93 377.01,337.93 378.95,337.94 380.9,337.94 382.84,337.95 384.79,337.95 386.74,337.96 388.68,337.96 390.62,337.96 392.57,337.97 394.51,337.97 396.46,337.97 398.4,337.98 400.35,337.98 402.3,337.98 404.24,337.99 406.19,337.99 408.13,338 410.07,338 412.02,338 413.96,338.01 415.91,338.01 417.86,338.02 419.8,338.02 421.75,338.03 423.69,338.03 425.63,338.03 427.58,338.04 429.52,338.04 431.47,338.05 433.42,338.05 435.36,338.06 437.31,338.06 439.25,338.06 441.19,338.07 443.14,338.07 445.08,338.08 447.03,338.08 448.98,338.08 450.92,338.09 452.87,338.09 454.81,338.1 456.75,338.1 458.7,338.1 460.64,338.11 462.59,338.11 464.54,338.12 466.48,338.12 468.43,338.12 470.37,338.13 472.31,338.13 474.26,338.13 476.2,338.14 478.15,338.14 480.1,338.14 482.04,338.15 483.99,338.15 485.93,338.15 487.88,338.15 489.82,338.16 491.76,338.16 493.71,338.16 495.66,338.17 497.6,338.17 499.55,338.17 501.49,338.17 503.44,338.17 505.38,338.18 507.32,338.18 509.27,338.18 511.21,338.18 513.16,338.19 515.11,338.19 517.05,338.19 519,338.19 520.94,338.19 522.88,338.19 524.83,338.19 526.77,338.2 528.72,338.2 530.67,338.2 532.61,338.2 534.56,338.2 536.5,338.2" fill="none" stroke="#FF0000" stroke-width="1.9" stroke-linejoin="round"/>
<path d="M70.17 26.67L71.35 29.85L74.74 29.98L72.07 32.08L72.99 35.35L70.17 33.47L67.35 35.35L68.27 32.08L65.61 29.98L69 29.85Z" fill="#FF0000"/>
<path d="M70.4 35.78L71.57 38.96L74.96 39.1L72.3 41.2L73.22 44.46L70.4 42.58L67.57 44.46L68.49 41.2L65.83 39.1L69.22 38.96Z" fill="#FF0000"/>
<path d="M70.6 44.75L71.78 47.94L75.17 48.07L72.51 50.17L73.43 53.44L70.6 51.55L67.78 53.44L68.7 50.17L66.04 48.07L69.43 47.94Z" fill="#FF0000"/>
<path d="M70.8 53.77L71.98 56.95L75.37 57.09L72.71 59.19L73.63 62.45L70.8 60.57L67.98 62.45L68.9 59.19L66.24 57.09L69.63 56.95Z" fill="#FF0000"/>
<path d="M71 62.77L72.17 65.96L75.56 66.09L72.9 68.19L73.82 71.46L71 69.57L68.18 71.46L69.1 68.19L66.43 66.09L69.82 65.96Z" fill="#FF0000"/>
<path d="M71.19 71.79L72.37 74.97L75.76 75.1L73.09 77.21L74.01 80.47L71.19 78.59L68.37 80.47L69.29 77.21L66.63 75.1L70.02 74.97Z" fill="#FF0000"/>
<path d="M71.38 80.7L72.55 83.89L75.94 84.02L73.28 86.12L74.2 89.39L71.38 87.5L68.56 89.39L69.48 86.12L66.81 84.02L70.2 83.89Z" fill="#FF0000"/>
<path d="M71.59 89.75L72.76 92.93L76.15 93.06L73.49 95.17L74.41 98.43L71.59 96.55L68.77 98.43L69.68 95.17L67.02 93.06L70.41 92.93Z" fill="#FF0000"/>
<path d="M71.83 98.71L73.01 101.89L76.4 102.02L73.74 104.13L74.66 107.39L71.83 105.51L69.01 107.39L69.93 104.13L67.27 102.02L70.66 101.89Z" fill="#FF0000"/>
<path d="M72.21 107.71L73.39 110.89L76.78 111.02L74.12 113.12L75.04 116.39L72.21 114.51L69.39 116.39L70.31 113.12L67.65 111.02L71.04 110.89Z" fill="#FF0000"/>
<path d="M72.83 116.65L74.01 119.83L77.4 119.96L74.73 122.07L75.65 125.33L72.83 123.45L70.01 125.33L70.93 122.07L68.27 119.96L71.66 119.83Z" fill="#FF0000"/>
<path d="M74.8 125.26L75.98 128.44L79.37 128.57L76.7 130.67L77.62 133.94L74.8 132.06L71.98 133.94L72.9 130.67L70.24 128.57L73.63 128.44Z" fill="#FF0000"/>
<path d="M77.48 128.2L78.66 131.38L82.05 131.52L79.38 133.62L80.3 136.88L77.48 135L74.66 136.88L75.58 133.62L72.91 131.52L76.3 131.38Z" fill="#FF0000"/>
<path d="M78.45 130.59L79.63 133.77L83.02 133.91L80.35 136.01L81.27 139.27L78.45 137.39L75.63 139.27L76.55 136.01L73.89 133.91L77.28 133.77Z" fill="#FF0000"/>
<path d="M79.42 133.2L80.6 136.38L83.99 136.52L81.33 138.62L82.25 141.88L79.42 140L76.6 141.88L77.52 138.62L74.86 136.52L78.25 136.38Z" fill="#FF0000"/>
<path d="M80.4 135.34L81.57 138.52L84.96 138.66L82.3 140.76L83.22 144.02L80.4 142.14L77.58 144.02L78.5 140.76L75.83 138.66L79.22 138.52Z" fill="#FF0000"/>
<path d="M81.37 137.36L82.55 140.54L85.94 140.67L83.27 142.77L84.19 146.04L81.37 144.16L78.55 146.04L79.47 142.77L76.8 140.67L80.19 140.54Z" fill="#FF0000"/>
<path d="M82.34 139.25L83.52 142.43L86.91 142.57L84.24 144.67L85.16 147.94L82.34 146.05L79.52 147.94L80.44 144.67L77.78 142.57L81.17 142.43Z" fill="#FF0000"/>
<path d="M83.31 141.03L84.49 144.21L87.88 144.35L85.22 146.45L86.14 149.72L83.31 147.83L80.49 149.72L81.41 146.45L78.75 144.35L82.14 144.21Z" fill="#FF0000"/>
<path d="M84.29 142.7L85.46 145.88L88.85 146.02L86.19 148.12L87.11 151.38L84.29 149.5L81.47 151.38L82.39 148.12L79.72 146.02L83.11 145.88Z" fill="#FF0000"/>
<path d="M85.26 144.24L86.44 147.42L89.83 147.55L87.16 149.65L88.08 152.92L85.26 151.04L82.44 152.92L83.36 149.65L80.69 147.55L84.08 147.42Z" fill="#FF0000"/>
<path d="M86.23 145.65L87.41 148.83L90.8 148.97L88.13 151.07L89.05 154.34L86.23 152.45L83.41 154.34L84.33 151.07L81.67 148.97L85.06 148.83Z" fill="#FF0000"/>
<path d="M87.2 147L88.38 150.18L91.77 150.32L89.11 152.42L90.03 155.69L87.2 153.8L84.38 155.69L85.3 152.42L82.64 150.32L86.03 150.18Z" fill="#FF0000"/>
<path d="M88.18 148.33L89.35 151.52L92.74 151.65L90.08 153.75L91 157.02L88.18 155.13L85.36 157.02L86.28 153.75L83.61 151.65L87 151.52Z" fill="#FF0000"/>
<path d="M89.15 149.7L90.33 152.88L93.72 153.02L91.05 155.12L91.97 158.38L89.15 156.5L86.33 158.38L87.25 155.12L84.58 153.02L87.97 152.88Z" fill="#FF0000"/>
<path d="M90.12 151.11L91.3 154.29L94.69 154.43L92.02 156.53L92.94 159.79L90.12 157.91L87.3 159.79L88.22 156.53L85.56 154.43L88.95 154.29Z" fill="#FF0000"/>
<path d="M91.09 152.52L92.27 155.71L95.66 155.84L93 157.94L93.92 161.21L91.09 159.32L88.27 161.21L89.19 157.94L86.53 155.84L89.92 155.71Z" fill="#FF0000"/>
<path d="M92.07 153.94L93.24 157.12L96.63 157.25L93.97 159.36L94.89 162.62L92.07 160.74L89.25 162.62L90.17 159.36L87.5 157.25L90.89 157.12Z" fill="#FF0000"/>
<path d="M93.04 155.33L94.22 158.52L97.61 158.65L94.94 160.75L95.86 164.02L93.04 162.13L90.22 164.02L91.14 160.75L88.47 158.65L91.86 158.52Z" fill="#FF0000"/>
<path d="M94.01 156.7L95.19 159.88L98.58 160.02L95.91 162.12L96.83 165.38L94.01 163.5L91.19 165.38L92.11 162.12L89.45 160.02L92.84 159.88Z" fill="#FF0000"/>
<path d="M94.98 158.04L96.16 161.22L99.55 161.35L96.89 163.46L97.81 166.72L94.98 164.84L92.16 166.72L93.08 163.46L90.42 161.35L93.81 161.22Z" fill="#FF0000"/>
<path d="M95.96 159.35L97.13 162.54L100.52 162.67L97.86 164.77L98.78 168.04L95.96 166.15L93.14 168.04L94.06 164.77L91.39 162.67L94.78 162.54Z" fill="#FF0000"/>
<path d="M96.93 160.65L98.11 163.84L101.5 163.97L98.83 166.07L99.75 169.34L96.93 167.45L94.11 169.34L95.03 166.07L92.36 163.97L95.75 163.84Z" fill="#FF0000"/>
<path d="M97.9 161.93L99.08 165.12L102.47 165.25L99.8 167.35L100.72 170.62L97.9 168.73L95.08 170.62L96 167.35L93.34 165.25L96.73 165.12Z" fill="#FF0000"/>
<path d="M98.88 163.2L100.05 166.38L103.44 166.52L100.78 168.62L101.7 171.88L98.88 170L96.05 171.88L96.97 168.62L94.31 166.52L97.7 166.38Z" fill="#FF0000"/>
<path d="M108.6 175.3L109.78 178.48L113.17 178.62L110.5 180.72L111.42 183.98L108.6 182.1L105.78 183.98L106.7 180.72L104.03 178.62L107.42 178.48Z" fill="#FF0000"/>
<path d="M118.33 190.5L119.5 193.68L122.89 193.82L120.23 195.92L121.15 199.18L118.33 197.3L115.5 199.18L116.42 195.92L113.76 193.82L117.15 193.68Z" fill="#FF0000"/>
<path d="M128.05 207.7L129.23 210.88L132.62 211.02L129.95 213.12L130.87 216.38L128.05 214.5L125.23 216.38L126.15 213.12L123.48 211.02L126.87 210.88Z" fill="#FF0000"/>
<path d="M137.78 224.2L138.95 227.38L142.34 227.52L139.68 229.62L140.6 232.88L137.78 231L134.95 232.88L135.87 229.62L133.21 227.52L136.6 227.38Z" fill="#FF0000"/>
<path d="M147.5 236.8L148.68 239.98L152.07 240.12L149.4 242.22L150.32 245.48L147.5 243.6L144.68 245.48L145.6 242.22L142.93 240.12L146.32 239.98Z" fill="#FF0000"/>
<path d="M157.23 250.1L158.4 253.28L161.79 253.42L159.13 255.52L160.05 258.78L157.23 256.9L154.4 258.78L155.32 255.52L152.66 253.42L156.05 253.28Z" fill="#FF0000"/>
<path d="M166.95 261.3L168.13 264.48L171.52 264.62L168.85 266.72L169.77 269.98L166.95 268.1L164.13 269.98L165.05 266.72L162.38 264.62L165.77 264.48Z" fill="#FF0000"/>
<path d="M176.68 269.2L177.85 272.38L181.24 272.52L178.58 274.62L179.5 277.88L176.68 276L173.85 277.88L174.77 274.62L172.11 272.52L175.5 272.38Z" fill="#FF0000"/>
<path d="M186.4 277.6L187.58 280.78L190.97 280.92L188.3 283.02L189.22 286.28L186.4 284.4L183.58 286.28L184.5 283.02L181.83 280.92L185.22 280.78Z" fill="#FF0000"/>
<path d="M196.12 284.2L197.3 287.38L200.69 287.52L198.03 289.62L198.95 292.88L196.12 291L193.3 292.88L194.22 289.62L191.56 287.52L194.95 287.38Z" fill="#FF0000"/>
<path d="M205.85 289.2L207.03 292.38L210.42 292.52L207.75 294.62L208.67 297.88L205.85 296L203.03 297.88L203.95 294.62L201.28 292.52L204.67 292.38Z" fill="#FF0000"/>
<path d="M215.57 295.2L216.75 298.38L220.14 298.52L217.48 300.62L218.4 303.88L215.57 302L212.75 303.88L213.67 300.62L211.01 298.52L214.4 298.38Z" fill="#FF0000"/>
<path d="M225.3 301.2L226.48 304.38L229.87 304.52L227.2 306.62L228.12 309.88L225.3 308L222.48 309.88L223.4 306.62L220.73 304.52L224.12 304.38Z" fill="#FF0000"/>
<path d="M235.03 306.8L236.2 309.98L239.59 310.12L236.93 312.22L237.85 315.48L235.03 313.6L232.2 315.48L233.12 312.22L230.46 310.12L233.85 309.98Z" fill="#FF0000"/>
<path d="M244.75 311.9L245.93 315.08L249.32 315.22L246.65 317.32L247.57 320.58L244.75 318.7L241.93 320.58L242.85 317.32L240.18 315.22L243.57 315.08Z" fill="#FF0000"/>
<path d="M254.48 316.2L255.65 319.38L259.04 319.52L256.38 321.62L257.3 324.88L254.48 323L251.65 324.88L252.57 321.62L249.91 319.52L253.3 319.38Z" fill="#FF0000"/>
<path d="M264.2 319.1L265.38 322.28L268.77 322.42L266.1 324.52L267.02 327.78L264.2 325.9L261.38 327.78L262.3 324.52L259.63 322.42L263.02 322.28Z" fill="#FF0000"/>
<path d="M273.93 322.1L275.1 325.28L278.49 325.42L275.83 327.52L276.75 330.78L273.93 328.9L271.1 330.78L272.02 327.52L269.36 325.42L272.75 325.28Z" fill="#FF0000"/>
<path d="M283.65 324.7L284.83 327.88L288.22 328.02L285.55 330.12L286.47 333.38L283.65 331.5L280.83 333.38L281.75 330.12L279.08 328.02L282.47 327.88Z" fill="#FF0000"/>
<path d="M293.38 326.2L294.55 329.38L297.94 329.52L295.28 331.62L296.2 334.88L293.38 333L290.55 334.88L291.47 331.62L288.81 329.52L292.2 329.38Z" fill="#FF0000"/>
<path d="M303.1 327.9L304.28 331.08L307.67 331.22L305 333.32L305.92 336.58L303.1 334.7L300.28 336.58L301.2 333.32L298.53 331.22L301.92 331.08Z" fill="#FF0000"/>
<path d="M312.82 329.7L314 332.88L317.39 333.02L314.73 335.12L315.65 338.38L312.82 336.5L310 338.38L310.92 335.12L308.26 333.02L311.65 332.88Z" fill="#FF0000"/>
<path d="M322.55 330.8L323.73 333.98L327.12 334.12L324.45 336.22L325.37 339.48L322.55 337.6L319.73 339.48L320.65 336.22L317.98 334.12L321.37 333.98Z" fill="#FF0000"/>
<path d="M332.27 331.6L333.45 334.78L336.84 334.92L334.18 337.02L335.1 340.28L332.27 338.4L329.45 340.28L330.37 337.02L327.71 334.92L331.1 334.78Z" fill="#FF0000"/>
<path d="M342 332.3L343.18 335.48L346.57 335.62L343.9 337.72L344.82 340.98L342 339.1L339.18 340.98L340.1 337.72L337.43 335.62L340.82 335.48Z" fill="#FF0000"/>
<path d="M351.73 333L352.9 336.18L356.29 336.32L353.63 338.42L354.55 341.68L351.73 339.8L348.9 341.68L349.82 338.42L347.16 336.32L350.55 336.18Z" fill="#FF0000"/>
<path d="M361.45 333.07L362.63 336.25L366.02 336.38L363.35 338.49L364.27 341.75L361.45 339.87L358.63 341.75L359.55 338.49L356.88 336.38L360.27 336.25Z" fill="#FF0000"/>
<path d="M371.18 333.11L372.35 336.3L375.74 336.43L373.08 338.53L374 341.8L371.18 339.91L368.35 341.8L369.27 338.53L366.61 336.43L370 336.3Z" fill="#FF0000"/>
<path d="M380.9 333.14L382.08 336.33L385.47 336.46L382.8 338.56L383.72 341.83L380.9 339.94L378.08 341.83L379 338.56L376.33 336.46L379.72 336.33Z" fill="#FF0000"/>
<path d="M390.62 333.16L391.8 336.35L395.19 336.48L392.53 338.58L393.45 341.85L390.62 339.96L387.8 341.85L388.72 338.58L386.06 336.48L389.45 336.35Z" fill="#FF0000"/>
<path d="M400.35 333.18L401.53 336.36L404.92 336.5L402.25 338.6L403.17 341.86L400.35 339.98L397.53 341.86L398.45 338.6L395.78 336.5L399.17 336.36Z" fill="#FF0000"/>
<path d="M410.07 333.2L411.25 336.38L414.64 336.52L411.98 338.62L412.9 341.88L410.07 340L407.25 341.88L408.17 338.62L405.51 336.52L408.9 336.38Z" fill="#FF0000"/>
<path d="M419.8 333.22L420.98 336.4L424.37 336.54L421.7 338.64L422.62 341.91L419.8 340.02L416.98 341.91L417.9 338.64L415.23 336.54L418.62 336.4Z" fill="#FF0000"/>
<path d="M429.52 333.24L430.7 336.43L434.09 336.56L431.43 338.66L432.35 341.93L429.52 340.04L426.7 341.93L427.62 338.66L424.96 336.56L428.35 336.43Z" fill="#FF0000"/>
<path d="M439.25 333.26L440.43 336.45L443.82 336.58L441.15 338.68L442.07 341.95L439.25 340.06L436.43 341.95L437.35 338.68L434.68 336.58L438.07 336.45Z" fill="#FF0000"/>
<path d="M448.98 333.28L450.15 336.47L453.54 336.6L450.88 338.7L451.8 341.97L448.98 340.08L446.15 341.97L447.07 338.7L444.41 336.6L447.8 336.47Z" fill="#FF0000"/>
<path d="M458.7 333.3L459.88 336.49L463.27 336.62L460.6 338.72L461.52 341.99L458.7 340.1L455.88 341.99L456.8 338.72L454.13 336.62L457.52 336.49Z" fill="#FF0000"/>
<path d="M478.15 333.34L479.33 336.52L482.72 336.66L480.05 338.76L480.97 342.02L478.15 340.14L475.33 342.02L476.25 338.76L473.58 336.66L476.97 336.52Z" fill="#FF0000"/>
<path d="M497.6 333.37L498.78 336.55L502.17 336.68L499.5 338.79L500.42 342.05L497.6 340.17L494.78 342.05L495.7 338.79L493.03 336.68L496.42 336.55Z" fill="#FF0000"/>
<path d="M507.32 333.38L508.5 336.56L511.89 336.7L509.23 338.8L510.15 342.06L507.32 340.18L504.5 342.06L505.42 338.8L502.76 336.7L506.15 336.56Z" fill="#FF0000"/>
<path d="M517.05 333.39L518.23 336.57L521.62 336.71L518.95 338.81L519.87 342.07L517.05 340.19L514.23 342.07L515.15 338.81L512.48 336.71L515.87 336.57Z" fill="#FF0000"/>
<path d="M526.77 333.4L527.95 336.58L531.34 336.71L528.68 338.81L529.6 342.08L526.77 340.2L523.95 342.08L524.87 338.81L522.21 336.71L525.6 336.58Z" fill="#FF0000"/>
<path d="M536.5 333.4L537.68 336.58L541.07 336.72L538.4 338.82L539.32 342.08L536.5 340.2L533.68 342.08L534.6 338.82L531.93 336.72L535.32 336.58Z" fill="#FF0000"/>
<polyline points="69.7,13.6 69.94,21.04 70.19,28.83 70.43,36.97 70.67,45.44 70.92,54.42 71.16,63.74 71.4,73.13 71.64,82.77 71.89,92 72.13,99.9 72.37,106.03 72.62,110.78 72.86,114.78 73.1,117.97 73.35,120.42 73.59,122.64 73.83,124.62 74.08,126.25 74.32,127.43 74.56,128.09 74.81,128.5 75.05,128.84 75.29,129.11 75.53,129.33 75.78,129.52 76.02,129.68 76.26,129.84 76.51,130 76.75,130.19 76.99,130.41 77.24,130.67 77.48,131 77.72,131.44 77.97,132.02 78.21,132.68 78.45,133.4 78.7,134.13 78.94,134.83 79.18,135.47 79.42,136 79.67,136.46 79.91,136.91 80.15,137.34 80.4,137.76 80.64,138.17 80.88,138.57 81.13,138.95 81.37,139.32 81.61,139.68 81.86,140.03 82.1,140.37 82.34,140.7 82.59,141.02 82.83,141.33 83.07,141.63 83.31,141.92 83.56,142.2 83.8,142.48 84.04,142.74 84.29,143 84.53,143.25 84.77,143.49 85.02,143.72 85.26,143.95 85.5,144.17 85.75,144.38 85.99,144.58 86.23,144.78 86.48,144.98 86.72,145.17 86.96,145.36 87.2,145.54 87.45,145.73 87.69,145.91 87.93,146.09 88.18,146.27 88.42,146.45 88.66,146.63 88.91,146.81 89.15,147 89.39,147.18 89.64,147.37 89.88,147.55 90.12,147.72 90.37,147.9 90.61,148.07 90.85,148.24 91.09,148.41 91.34,148.58 91.58,148.75 91.82,148.92 92.07,149.09 92.31,149.26 92.55,149.43 92.8,149.6 93.04,149.78 93.28,149.95 93.53,150.13 93.77,150.32 94.01,150.5 94.26,150.69 94.5,150.88 94.74,151.07 94.98,151.27 95.23,151.46 95.47,151.66 95.71,151.86 95.96,152.06 96.2,152.26 96.44,152.47 96.69,152.67 96.93,152.87 97.17,153.08 97.42,153.28 97.66,153.49 97.9,153.69 98.15,153.89 98.39,154.1 98.63,154.3 98.88,154.5 100.82,156.02 102.77,157.47 104.71,158.95 106.66,160.59 108.6,162.5 110.55,164.99 112.49,168.05 114.44,171.37 116.38,174.6 118.33,177.4 120.27,179.75 122.22,181.89 124.16,183.92 126.11,185.92 128.05,188 130,190.14 131.94,192.29 133.88,194.44 135.83,196.61 137.78,198.8 139.72,201.07 141.67,203.41 143.61,205.74 145.56,207.97 147.5,210 149.44,211.79 151.39,213.41 153.34,214.96 155.28,216.56 157.23,218.3 159.17,220.25 161.12,222.36 163.06,224.53 165,226.67 166.95,228.7 168.9,230.61 170.84,232.47 172.79,234.29 174.73,236.06 176.68,237.8 178.62,239.51 180.56,241.19 182.51,242.83 184.46,244.43 186.4,246 188.35,247.54 190.29,249.06 192.24,250.53 194.18,251.95 196.12,253.3 198.07,254.55 200.01,255.73 201.96,256.87 203.91,258.02 205.85,259.2 207.8,260.44 209.74,261.7 211.69,262.97 213.63,264.25 215.57,265.5 217.52,266.74 219.47,267.98 221.41,269.21 223.36,270.42 225.3,271.6 227.25,272.75 229.19,273.89 231.13,275 233.08,276.07 235.03,277.1 236.97,278.06 238.92,278.97 240.86,279.86 242.81,280.76 244.75,281.7 246.69,282.7 248.64,283.74 250.59,284.8 252.53,285.86 254.48,286.9 256.42,287.96 258.37,289.04 260.31,290.1 262.25,291.1 264.2,292 266.14,292.78 268.09,293.47 270.04,294.13 271.98,294.79 273.93,295.5 275.87,296.27 277.81,297.09 279.76,297.91 281.7,298.73 283.65,299.5 285.6,300.26 287.54,301.02 289.49,301.75 291.43,302.42 293.38,303 295.32,303.49 297.26,303.91 299.21,304.3 301.16,304.69 303.1,305.1 305.05,305.55 306.99,306.02 308.94,306.49 310.88,306.92 312.82,307.3 314.77,307.62 316.72,307.9 318.66,308.16 320.61,308.42 322.55,308.7 324.5,309 326.44,309.31 328.38,309.63 330.33,309.93 332.27,310.2 334.22,310.43 336.17,310.63 338.11,310.83 340.06,311.04 342,311.3 343.94,311.64 345.89,312.05 347.83,312.5 349.78,312.97 351.73,313.4 353.67,313.85 355.62,314.33 357.56,314.78 359.5,315.16 361.45,315.4 363.39,315.55 365.34,315.7 367.29,315.84 369.23,315.98 371.18,316.12 373.12,316.25 375.06,316.38 377.01,316.5 378.95,316.62 380.9,316.73 382.84,316.84 384.79,316.95 386.74,317.05 388.68,317.15 390.62,317.25 392.57,317.34 394.51,317.43 396.46,317.51 398.4,317.59 400.35,317.67 402.3,317.74 404.24,317.81 406.19,317.87 408.13,317.93 410.07,317.99 412.02,318.04 413.96,318.09 415.91,318.14 417.86,318.18 419.8,318.22 421.75,318.25 423.69,318.28 425.63,318.31 427.58,318.34 429.52,318.36 431.47,318.37 433.42,318.38 435.36,318.39 437.31,318.4 439.25,318.4 441.19,318.4 443.14,318.4 445.08,318.4 447.03,318.4 448.98,318.4 450.92,318.4 452.87,318.4 454.81,318.4 456.75,318.4 458.7,318.4 460.64,318.4 462.59,318.39 464.54,318.39 466.48,318.39 468.43,318.39 470.37,318.39 472.31,318.38 474.26,318.38 476.2,318.38 478.15,318.37 480.1,318.37 482.04,318.37 483.99,318.36 485.93,318.36 487.88,318.35 489.82,318.34 491.76,318.34 493.71,318.33 495.66,318.32 497.6,318.31 499.55,318.3 501.49,318.3 503.44,318.29 505.38,318.27 507.32,318.26 509.27,318.25 511.21,318.24 513.16,318.22 515.11,318.21 517.05,318.2 519,318.18 520.94,318.16 522.88,318.15 524.83,318.13 526.77,318.11 528.72,318.09 530.67,318.07 532.61,318.05 534.56,318.02 536.5,318" fill="none" stroke="#FF00FF" stroke-width="1.9" stroke-linejoin="round"/>
<circle cx="70.31" cy="32.86" r="4" fill="#FF00FF"/><circle cx="69.31" cy="31.86" r="1.2" fill="#FFD0FF"/>
<circle cx="70.57" cy="41.83" r="4" fill="#FF00FF"/><circle cx="69.57" cy="40.83" r="1.2" fill="#FFD0FF"/>
<circle cx="70.82" cy="50.78" r="4" fill="#FF00FF"/><circle cx="69.82" cy="49.78" r="1.2" fill="#FFD0FF"/>
<circle cx="71.06" cy="59.8" r="4" fill="#FF00FF"/><circle cx="70.06" cy="58.8" r="1.2" fill="#FFD0FF"/>
<circle cx="71.29" cy="68.82" r="4" fill="#FF00FF"/><circle cx="70.29" cy="67.82" r="1.2" fill="#FFD0FF"/>
<circle cx="71.52" cy="77.86" r="4" fill="#FF00FF"/><circle cx="70.52" cy="76.86" r="1.2" fill="#FFD0FF"/>
<circle cx="71.75" cy="86.84" r="4" fill="#FF00FF"/><circle cx="70.75" cy="85.84" r="1.2" fill="#FFD0FF"/>
<circle cx="72" cy="95.74" r="4" fill="#FF00FF"/><circle cx="71" cy="94.74" r="1.2" fill="#FFD0FF"/>
<circle cx="72.32" cy="104.79" r="4" fill="#FF00FF"/><circle cx="71.32" cy="103.79" r="1.2" fill="#FFD0FF"/>
<circle cx="72.79" cy="113.74" r="4" fill="#FF00FF"/><circle cx="71.79" cy="112.74" r="1.2" fill="#FFD0FF"/>
<circle cx="73.59" cy="122.69" r="4" fill="#FF00FF"/><circle cx="72.59" cy="121.69" r="1.2" fill="#FFD0FF"/>
<circle cx="77.04" cy="130.45" r="4" fill="#FF00FF"/><circle cx="76.04" cy="129.45" r="1.2" fill="#FFD0FF"/>
<circle cx="77.48" cy="131" r="4" fill="#FF00FF"/><circle cx="76.48" cy="130" r="1.2" fill="#FFD0FF"/>
<circle cx="78.45" cy="133.4" r="4" fill="#FF00FF"/><circle cx="77.45" cy="132.4" r="1.2" fill="#FFD0FF"/>
<circle cx="79.42" cy="136" r="4" fill="#FF00FF"/><circle cx="78.42" cy="135" r="1.2" fill="#FFD0FF"/>
<circle cx="80.4" cy="137.76" r="4" fill="#FF00FF"/><circle cx="79.4" cy="136.76" r="1.2" fill="#FFD0FF"/>
<circle cx="81.37" cy="139.32" r="4" fill="#FF00FF"/><circle cx="80.37" cy="138.32" r="1.2" fill="#FFD0FF"/>
<circle cx="82.34" cy="140.7" r="4" fill="#FF00FF"/><circle cx="81.34" cy="139.7" r="1.2" fill="#FFD0FF"/>
<circle cx="83.31" cy="141.92" r="4" fill="#FF00FF"/><circle cx="82.31" cy="140.92" r="1.2" fill="#FFD0FF"/>
<circle cx="84.29" cy="143" r="4" fill="#FF00FF"/><circle cx="83.29" cy="142" r="1.2" fill="#FFD0FF"/>
<circle cx="85.26" cy="143.95" r="4" fill="#FF00FF"/><circle cx="84.26" cy="142.95" r="1.2" fill="#FFD0FF"/>
<circle cx="86.23" cy="144.78" r="4" fill="#FF00FF"/><circle cx="85.23" cy="143.78" r="1.2" fill="#FFD0FF"/>
<circle cx="87.2" cy="145.54" r="4" fill="#FF00FF"/><circle cx="86.2" cy="144.54" r="1.2" fill="#FFD0FF"/>
<circle cx="88.18" cy="146.27" r="4" fill="#FF00FF"/><circle cx="87.18" cy="145.27" r="1.2" fill="#FFD0FF"/>
<circle cx="89.15" cy="147" r="4" fill="#FF00FF"/><circle cx="88.15" cy="146" r="1.2" fill="#FFD0FF"/>
<circle cx="90.12" cy="147.72" r="4" fill="#FF00FF"/><circle cx="89.12" cy="146.72" r="1.2" fill="#FFD0FF"/>
<circle cx="91.09" cy="148.41" r="4" fill="#FF00FF"/><circle cx="90.09" cy="147.41" r="1.2" fill="#FFD0FF"/>
<circle cx="92.07" cy="149.09" r="4" fill="#FF00FF"/><circle cx="91.07" cy="148.09" r="1.2" fill="#FFD0FF"/>
<circle cx="93.04" cy="149.78" r="4" fill="#FF00FF"/><circle cx="92.04" cy="148.78" r="1.2" fill="#FFD0FF"/>
<circle cx="94.01" cy="150.5" r="4" fill="#FF00FF"/><circle cx="93.01" cy="149.5" r="1.2" fill="#FFD0FF"/>
<circle cx="94.98" cy="151.27" r="4" fill="#FF00FF"/><circle cx="93.98" cy="150.27" r="1.2" fill="#FFD0FF"/>
<circle cx="95.96" cy="152.06" r="4" fill="#FF00FF"/><circle cx="94.96" cy="151.06" r="1.2" fill="#FFD0FF"/>
<circle cx="96.93" cy="152.87" r="4" fill="#FF00FF"/><circle cx="95.93" cy="151.87" r="1.2" fill="#FFD0FF"/>
<circle cx="97.9" cy="153.69" r="4" fill="#FF00FF"/><circle cx="96.9" cy="152.69" r="1.2" fill="#FFD0FF"/>
<circle cx="98.88" cy="154.5" r="4" fill="#FF00FF"/><circle cx="97.88" cy="153.5" r="1.2" fill="#FFD0FF"/>
<circle cx="108.6" cy="162.5" r="4" fill="#FF00FF"/><circle cx="107.6" cy="161.5" r="1.2" fill="#FFD0FF"/>
<circle cx="118.33" cy="177.4" r="4" fill="#FF00FF"/><circle cx="117.33" cy="176.4" r="1.2" fill="#FFD0FF"/>
<circle cx="128.05" cy="188" r="4" fill="#FF00FF"/><circle cx="127.05" cy="187" r="1.2" fill="#FFD0FF"/>
<circle cx="137.78" cy="198.8" r="4" fill="#FF00FF"/><circle cx="136.78" cy="197.8" r="1.2" fill="#FFD0FF"/>
<circle cx="147.5" cy="210" r="4" fill="#FF00FF"/><circle cx="146.5" cy="209" r="1.2" fill="#FFD0FF"/>
<circle cx="157.23" cy="218.3" r="4" fill="#FF00FF"/><circle cx="156.23" cy="217.3" r="1.2" fill="#FFD0FF"/>
<circle cx="166.95" cy="228.7" r="4" fill="#FF00FF"/><circle cx="165.95" cy="227.7" r="1.2" fill="#FFD0FF"/>
<circle cx="176.68" cy="237.8" r="4" fill="#FF00FF"/><circle cx="175.68" cy="236.8" r="1.2" fill="#FFD0FF"/>
<circle cx="186.4" cy="246" r="4" fill="#FF00FF"/><circle cx="185.4" cy="245" r="1.2" fill="#FFD0FF"/>
<circle cx="196.12" cy="253.3" r="4" fill="#FF00FF"/><circle cx="195.12" cy="252.3" r="1.2" fill="#FFD0FF"/>
<circle cx="205.85" cy="259.2" r="4" fill="#FF00FF"/><circle cx="204.85" cy="258.2" r="1.2" fill="#FFD0FF"/>
<circle cx="215.57" cy="265.5" r="4" fill="#FF00FF"/><circle cx="214.57" cy="264.5" r="1.2" fill="#FFD0FF"/>
<circle cx="225.3" cy="271.6" r="4" fill="#FF00FF"/><circle cx="224.3" cy="270.6" r="1.2" fill="#FFD0FF"/>
<circle cx="235.03" cy="277.1" r="4" fill="#FF00FF"/><circle cx="234.03" cy="276.1" r="1.2" fill="#FFD0FF"/>
<circle cx="244.75" cy="281.7" r="4" fill="#FF00FF"/><circle cx="243.75" cy="280.7" r="1.2" fill="#FFD0FF"/>
<circle cx="254.48" cy="286.9" r="4" fill="#FF00FF"/><circle cx="253.48" cy="285.9" r="1.2" fill="#FFD0FF"/>
<circle cx="264.2" cy="292" r="4" fill="#FF00FF"/><circle cx="263.2" cy="291" r="1.2" fill="#FFD0FF"/>
<circle cx="273.93" cy="295.5" r="4" fill="#FF00FF"/><circle cx="272.93" cy="294.5" r="1.2" fill="#FFD0FF"/>
<circle cx="283.65" cy="299.5" r="4" fill="#FF00FF"/><circle cx="282.65" cy="298.5" r="1.2" fill="#FFD0FF"/>
<circle cx="293.38" cy="303" r="4" fill="#FF00FF"/><circle cx="292.38" cy="302" r="1.2" fill="#FFD0FF"/>
<circle cx="303.1" cy="305.1" r="4" fill="#FF00FF"/><circle cx="302.1" cy="304.1" r="1.2" fill="#FFD0FF"/>
<circle cx="312.82" cy="307.3" r="4" fill="#FF00FF"/><circle cx="311.82" cy="306.3" r="1.2" fill="#FFD0FF"/>
<circle cx="322.55" cy="308.7" r="4" fill="#FF00FF"/><circle cx="321.55" cy="307.7" r="1.2" fill="#FFD0FF"/>
<circle cx="332.27" cy="310.2" r="4" fill="#FF00FF"/><circle cx="331.27" cy="309.2" r="1.2" fill="#FFD0FF"/>
<circle cx="342" cy="311.3" r="4" fill="#FF00FF"/><circle cx="341" cy="310.3" r="1.2" fill="#FFD0FF"/>
<circle cx="351.73" cy="313.4" r="4" fill="#FF00FF"/><circle cx="350.73" cy="312.4" r="1.2" fill="#FFD0FF"/>
<circle cx="361.45" cy="315.4" r="4" fill="#FF00FF"/><circle cx="360.45" cy="314.4" r="1.2" fill="#FFD0FF"/>
<circle cx="371.18" cy="316.12" r="4" fill="#FF00FF"/><circle cx="370.18" cy="315.12" r="1.2" fill="#FFD0FF"/>
<circle cx="380.9" cy="316.73" r="4" fill="#FF00FF"/><circle cx="379.9" cy="315.73" r="1.2" fill="#FFD0FF"/>
<circle cx="390.62" cy="317.25" r="4" fill="#FF00FF"/><circle cx="389.62" cy="316.25" r="1.2" fill="#FFD0FF"/>
<circle cx="400.35" cy="317.67" r="4" fill="#FF00FF"/><circle cx="399.35" cy="316.67" r="1.2" fill="#FFD0FF"/>
<circle cx="410.07" cy="317.99" r="4" fill="#FF00FF"/><circle cx="409.07" cy="316.99" r="1.2" fill="#FFD0FF"/>
<circle cx="419.8" cy="318.22" r="4" fill="#FF00FF"/><circle cx="418.8" cy="317.22" r="1.2" fill="#FFD0FF"/>
<circle cx="429.52" cy="318.36" r="4" fill="#FF00FF"/><circle cx="428.52" cy="317.36" r="1.2" fill="#FFD0FF"/>
<circle cx="439.25" cy="318.4" r="4" fill="#FF00FF"/><circle cx="438.25" cy="317.4" r="1.2" fill="#FFD0FF"/>
<circle cx="448.98" cy="318.4" r="4" fill="#FF00FF"/><circle cx="447.98" cy="317.4" r="1.2" fill="#FFD0FF"/>
<circle cx="458.7" cy="318.4" r="4" fill="#FF00FF"/><circle cx="457.7" cy="317.4" r="1.2" fill="#FFD0FF"/>
<circle cx="478.15" cy="318.37" r="4" fill="#FF00FF"/><circle cx="477.15" cy="317.37" r="1.2" fill="#FFD0FF"/>
<circle cx="497.6" cy="318.31" r="4" fill="#FF00FF"/><circle cx="496.6" cy="317.31" r="1.2" fill="#FFD0FF"/>
<circle cx="507.32" cy="318.26" r="4" fill="#FF00FF"/><circle cx="506.32" cy="317.26" r="1.2" fill="#FFD0FF"/>
<circle cx="517.05" cy="318.2" r="4" fill="#FF00FF"/><circle cx="516.05" cy="317.2" r="1.2" fill="#FFD0FF"/>
<circle cx="526.77" cy="318.11" r="4" fill="#FF00FF"/><circle cx="525.77" cy="317.11" r="1.2" fill="#FFD0FF"/>
<circle cx="536.5" cy="318" r="4" fill="#FF00FF"/><circle cx="535.5" cy="317" r="1.2" fill="#FFD0FF"/>
<polyline points="69.7,13.6 69.94,21.99 70.19,30.84 70.43,40.1 70.67,49.88 70.92,60.22 71.16,70.79 71.4,81.54 71.64,92 71.89,100.8 72.13,107.29 72.37,112.37 72.62,116.48 72.86,119.54 73.1,122.13 73.35,124.44 73.59,126.32 73.83,127.59 74.08,128.17 74.32,128.53 74.56,128.83 74.81,129.08 75.05,129.28 75.29,129.45 75.53,129.59 75.78,129.71 76.02,129.83 76.26,129.96 76.51,130.1 76.75,130.26 76.99,130.46 77.24,130.7 77.48,131 77.72,131.41 77.97,131.98 78.21,132.64 78.45,133.36 78.7,134.1 78.94,134.82 79.18,135.46 79.42,136 79.67,136.46 79.91,136.91 80.15,137.34 80.4,137.76 80.64,138.17 80.88,138.57 81.13,138.95 81.37,139.32 81.61,139.68 81.86,140.03 82.1,140.37 82.34,140.7 82.59,141.02 82.83,141.33 83.07,141.63 83.31,141.92 83.56,142.2 83.8,142.48 84.04,142.74 84.29,143 84.53,143.25 84.77,143.49 85.02,143.73 85.26,143.96 85.5,144.18 85.75,144.4 85.99,144.61 86.23,144.81 86.48,145.01 86.72,145.21 86.96,145.4 87.2,145.59 87.45,145.77 87.69,145.95 87.93,146.13 88.18,146.31 88.42,146.48 88.66,146.66 88.91,146.83 89.15,147 89.39,147.17 89.64,147.34 89.88,147.51 90.12,147.67 90.37,147.84 90.61,148 90.85,148.16 91.09,148.32 91.34,148.48 91.58,148.63 91.82,148.78 92.07,148.93 92.31,149.07 92.55,149.22 92.8,149.35 93.04,149.49 93.28,149.62 93.53,149.75 93.77,149.88 94.01,150 94.26,150.12 94.5,150.24 94.74,150.35 94.98,150.46 95.23,150.58 95.47,150.69 95.71,150.79 95.96,150.9 96.2,151 96.44,151.1 96.69,151.2 96.93,151.3 97.17,151.39 97.42,151.49 97.66,151.58 97.9,151.67 98.15,151.75 98.39,151.84 98.63,151.92 98.88,152 100.82,152.57 102.77,153.05 104.71,153.5 106.66,153.97 108.6,154.5 110.55,155.06 112.49,155.61 114.44,156.24 116.38,157.01 118.33,158 120.27,159.74 122.22,162.44 124.16,165.69 126.11,169.08 128.05,172.2 130,175.1 131.94,178.06 133.88,181 135.83,183.84 137.78,186.5 139.72,188.94 141.67,191.23 143.61,193.45 145.56,195.68 147.5,198 149.44,200.46 151.39,203 153.34,205.56 155.28,208.09 157.23,210.5 159.17,212.81 161.12,215.05 163.06,217.24 165,219.39 166.95,221.5 168.9,223.61 170.84,225.71 172.79,227.75 174.73,229.7 176.68,231.5 178.62,233.14 180.56,234.65 182.51,236.1 184.46,237.53 186.4,239 188.35,240.51 190.29,242.02 192.24,243.54 194.18,245.03 196.12,246.5 198.07,247.95 200.01,249.39 201.96,250.8 203.91,252.18 205.85,253.5 207.8,254.77 209.74,256 211.69,257.19 213.63,258.36 215.57,259.5 217.52,260.62 219.47,261.73 221.41,262.81 223.36,263.86 225.3,264.9 227.25,265.89 229.19,266.82 231.13,267.75 233.08,268.73 235.03,269.8 236.97,271.03 238.92,272.39 240.86,273.82 242.81,275.21 244.75,276.5 246.69,277.68 248.64,278.8 250.59,279.89 252.53,280.95 254.48,282 256.42,283.05 258.37,284.09 260.31,285.1 262.25,286.08 264.2,287 266.14,287.87 268.09,288.69 270.04,289.48 271.98,290.25 273.93,291 275.87,291.73 277.81,292.43 279.76,293.12 281.7,293.81 283.65,294.5 285.6,295.22 287.54,295.96 289.49,296.68 291.43,297.37 293.38,298 295.32,298.57 297.26,299.11 299.21,299.62 301.16,300.09 303.1,300.5 305.05,300.87 306.99,301.23 308.94,301.56 310.88,301.88 312.82,302.18 314.77,302.47 316.72,302.74 318.66,303 320.61,303.26 322.55,303.5 324.5,303.73 326.44,303.94 328.38,304.14 330.33,304.33 332.27,304.51 334.22,304.7 336.17,304.88 338.11,305.07 340.06,305.28 342,305.5 343.94,305.74 345.89,306.01 347.83,306.29 349.78,306.59 351.73,306.88 353.67,307.18 355.62,307.46 357.56,307.73 359.5,307.98 361.45,308.2 363.39,308.4 365.34,308.6 367.29,308.79 369.23,308.97 371.18,309.16 373.12,309.33 375.06,309.51 377.01,309.67 378.95,309.84 380.9,309.99 382.84,310.15 384.79,310.29 386.74,310.44 388.68,310.58 390.62,310.71 392.57,310.84 394.51,310.96 396.46,311.08 398.4,311.19 400.35,311.3 402.3,311.41 404.24,311.51 406.19,311.61 408.13,311.72 410.07,311.82 412.02,311.92 413.96,312.01 415.91,312.11 417.86,312.2 419.8,312.28 421.75,312.37 423.69,312.45 425.63,312.52 427.58,312.59 429.52,312.66 431.47,312.72 433.42,312.77 435.36,312.82 437.31,312.86 439.25,312.9 441.19,312.93 443.14,312.96 445.08,312.99 447.03,313.02 448.98,313.04 450.92,313.07 452.87,313.09 454.81,313.11 456.75,313.13 458.7,313.15 460.64,313.17 462.59,313.19 464.54,313.21 466.48,313.22 468.43,313.24 470.37,313.25 472.31,313.27 474.26,313.28 476.2,313.29 478.15,313.3 480.1,313.31 482.04,313.32 483.99,313.33 485.93,313.34 487.88,313.35 489.82,313.36 491.76,313.37 493.71,313.38 495.66,313.39 497.6,313.4 499.55,313.41 501.49,313.42 503.44,313.42 505.38,313.43 507.32,313.44 509.27,313.45 511.21,313.45 513.16,313.46 515.11,313.47 517.05,313.47 519,313.48 520.94,313.48 522.88,313.49 524.83,313.49 526.77,313.49 528.72,313.5 530.67,313.5 532.61,313.5 534.56,313.5 536.5,313.5" fill="none" stroke="#008000" stroke-width="1.9" stroke-linejoin="round"/>
<path d="M65.97 29.82L74.57 38.42M65.97 38.42L74.57 29.82" stroke="#4CA64C" stroke-width="1.1" fill="none"/>
<path d="M66.21 38.85L74.81 47.45M66.21 47.45L74.81 38.85" stroke="#4CA64C" stroke-width="1.1" fill="none"/>
<path d="M66.43 47.82L75.03 56.42M66.43 56.42L75.03 47.82" stroke="#4CA64C" stroke-width="1.1" fill="none"/>
<path d="M66.64 56.76L75.24 65.36M66.64 65.36L75.24 56.76" stroke="#4CA64C" stroke-width="1.1" fill="none"/>
<path d="M66.84 65.85L75.44 74.45M66.84 74.45L75.44 65.85" stroke="#4CA64C" stroke-width="1.1" fill="none"/>
<path d="M67.05 74.8L75.65 83.4M67.05 83.4L75.65 74.8" stroke="#4CA64C" stroke-width="1.1" fill="none"/>
<path d="M67.25 83.76L75.85 92.36M67.25 92.36L75.85 83.76" stroke="#4CA64C" stroke-width="1.1" fill="none"/>
<path d="M67.48 92.79L76.08 101.39M67.48 101.39L76.08 92.79" stroke="#4CA64C" stroke-width="1.1" fill="none"/>
<path d="M67.78 101.75L76.38 110.35M67.78 110.35L76.38 101.75" stroke="#4CA64C" stroke-width="1.1" fill="none"/>
<path d="M68.23 110.74L76.83 119.34M68.23 119.34L76.83 110.74" stroke="#4CA64C" stroke-width="1.1" fill="none"/>
<path d="M68.99 119.67L77.59 128.27M68.99 128.27L77.59 119.67" stroke="#4CA64C" stroke-width="1.1" fill="none"/>
<path d="M74.45 129.36L82.45 137.36M74.45 137.36L82.45 129.36M78.45 129.36V137.36" stroke="#5CB05C" stroke-width="1" fill="none"/>
<path d="M77.37 135.32L85.37 143.32M77.37 143.32L85.37 135.32M81.37 135.32V143.32" stroke="#5CB05C" stroke-width="1" fill="none"/>
<path d="M80.29 139L88.29 147M80.29 147L88.29 139M84.29 139V147" stroke="#5CB05C" stroke-width="1" fill="none"/>
<path d="M83.2 141.59L91.2 149.59M83.2 149.59L91.2 141.59M87.2 141.59V149.59" stroke="#5CB05C" stroke-width="1" fill="none"/>
<path d="M86.12 143.67L94.12 151.67M86.12 151.67L94.12 143.67M90.12 143.67V151.67" stroke="#5CB05C" stroke-width="1" fill="none"/>
<path d="M89.04 145.49L97.04 153.49M89.04 153.49L97.04 145.49M93.04 145.49V153.49" stroke="#5CB05C" stroke-width="1" fill="none"/>
<path d="M91.96 146.9L99.96 154.9M91.96 154.9L99.96 146.9M95.96 146.9V154.9" stroke="#5CB05C" stroke-width="1" fill="none"/>
<path d="M94.88 148L102.88 156M94.88 156L102.88 148M98.88 148V156" stroke="#5CB05C" stroke-width="1" fill="none"/>
<path d="M104.6 150.5L112.6 158.5M104.6 158.5L112.6 150.5M108.6 150.5V158.5" stroke="#5CB05C" stroke-width="1" fill="none"/>
<path d="M114.33 154L122.33 162M114.33 162L122.33 154M118.33 154V162" stroke="#5CB05C" stroke-width="1" fill="none"/>
<path d="M124.05 168.2L132.05 176.2M124.05 176.2L132.05 168.2M128.05 168.2V176.2" stroke="#5CB05C" stroke-width="1" fill="none"/>
<path d="M133.78 182.5L141.78 190.5M133.78 190.5L141.78 182.5M137.78 182.5V190.5" stroke="#5CB05C" stroke-width="1" fill="none"/>
<path d="M143.5 194L151.5 202M143.5 202L151.5 194M147.5 194V202" stroke="#5CB05C" stroke-width="1" fill="none"/>
<path d="M153.23 206.5L161.23 214.5M153.23 214.5L161.23 206.5M157.23 206.5V214.5" stroke="#5CB05C" stroke-width="1" fill="none"/>
<path d="M162.95 217.5L170.95 225.5M162.95 225.5L170.95 217.5M166.95 217.5V225.5" stroke="#5CB05C" stroke-width="1" fill="none"/>
<path d="M172.68 227.5L180.68 235.5M172.68 235.5L180.68 227.5M176.68 227.5V235.5" stroke="#5CB05C" stroke-width="1" fill="none"/>
<path d="M182.4 235L190.4 243M182.4 243L190.4 235M186.4 235V243" stroke="#5CB05C" stroke-width="1" fill="none"/>
<path d="M192.12 242.5L200.12 250.5M192.12 250.5L200.12 242.5M196.12 242.5V250.5" stroke="#5CB05C" stroke-width="1" fill="none"/>
<path d="M201.85 249.5L209.85 257.5M201.85 257.5L209.85 249.5M205.85 249.5V257.5" stroke="#5CB05C" stroke-width="1" fill="none"/>
<path d="M211.57 255.5L219.57 263.5M211.57 263.5L219.57 255.5M215.57 255.5V263.5" stroke="#5CB05C" stroke-width="1" fill="none"/>
<path d="M221.3 260.9L229.3 268.9M221.3 268.9L229.3 260.9M225.3 260.9V268.9" stroke="#5CB05C" stroke-width="1" fill="none"/>
<path d="M231.03 265.8L239.03 273.8M231.03 273.8L239.03 265.8M235.03 265.8V273.8" stroke="#5CB05C" stroke-width="1" fill="none"/>
<path d="M240.75 272.5L248.75 280.5M240.75 280.5L248.75 272.5M244.75 272.5V280.5" stroke="#5CB05C" stroke-width="1" fill="none"/>
<path d="M250.48 278L258.48 286M250.48 286L258.48 278M254.48 278V286" stroke="#5CB05C" stroke-width="1" fill="none"/>
<path d="M260.2 283L268.2 291M260.2 291L268.2 283M264.2 283V291" stroke="#5CB05C" stroke-width="1" fill="none"/>
<path d="M269.93 287L277.93 295M269.93 295L277.93 287M273.93 287V295" stroke="#5CB05C" stroke-width="1" fill="none"/>
<path d="M279.65 290.5L287.65 298.5M279.65 298.5L287.65 290.5M283.65 290.5V298.5" stroke="#5CB05C" stroke-width="1" fill="none"/>
<path d="M289.38 294L297.38 302M289.38 302L297.38 294M293.38 294V302" stroke="#5CB05C" stroke-width="1" fill="none"/>
<path d="M299.1 296.5L307.1 304.5M299.1 304.5L307.1 296.5M303.1 296.5V304.5" stroke="#5CB05C" stroke-width="1" fill="none"/>
<path d="M308.82 298.18L316.82 306.18M308.82 306.18L316.82 298.18M312.82 298.18V306.18" stroke="#5CB05C" stroke-width="1" fill="none"/>
<path d="M318.55 299.5L326.55 307.5M318.55 307.5L326.55 299.5M322.55 299.5V307.5" stroke="#5CB05C" stroke-width="1" fill="none"/>
<path d="M328.27 300.51L336.27 308.51M328.27 308.51L336.27 300.51M332.27 300.51V308.51" stroke="#5CB05C" stroke-width="1" fill="none"/>
<path d="M338 301.5L346 309.5M338 309.5L346 301.5M342 301.5V309.5" stroke="#5CB05C" stroke-width="1" fill="none"/>
<path d="M347.73 302.88L355.73 310.88M347.73 310.88L355.73 302.88M351.73 302.88V310.88" stroke="#5CB05C" stroke-width="1" fill="none"/>
<path d="M357.45 304.2L365.45 312.2M357.45 312.2L365.45 304.2M361.45 304.2V312.2" stroke="#5CB05C" stroke-width="1" fill="none"/>
<path d="M367.18 305.16L375.18 313.16M367.18 313.16L375.18 305.16M371.18 305.16V313.16" stroke="#5CB05C" stroke-width="1" fill="none"/>
<path d="M376.9 305.99L384.9 313.99M376.9 313.99L384.9 305.99M380.9 305.99V313.99" stroke="#5CB05C" stroke-width="1" fill="none"/>
<path d="M386.62 306.71L394.62 314.71M386.62 314.71L394.62 306.71M390.62 306.71V314.71" stroke="#5CB05C" stroke-width="1" fill="none"/>
<path d="M396.35 307.3L404.35 315.3M396.35 315.3L404.35 307.3M400.35 307.3V315.3" stroke="#5CB05C" stroke-width="1" fill="none"/>
<path d="M406.07 307.82L414.07 315.82M406.07 315.82L414.07 307.82M410.07 307.82V315.82" stroke="#5CB05C" stroke-width="1" fill="none"/>
<path d="M415.8 308.28L423.8 316.28M415.8 316.28L423.8 308.28M419.8 308.28V316.28" stroke="#5CB05C" stroke-width="1" fill="none"/>
<path d="M425.52 308.66L433.52 316.66M425.52 316.66L433.52 308.66M429.52 308.66V316.66" stroke="#5CB05C" stroke-width="1" fill="none"/>
<path d="M435.25 308.9L443.25 316.9M435.25 316.9L443.25 308.9M439.25 308.9V316.9" stroke="#5CB05C" stroke-width="1" fill="none"/>
<path d="M444.98 309.04L452.98 317.04M444.98 317.04L452.98 309.04M448.98 309.04V317.04" stroke="#5CB05C" stroke-width="1" fill="none"/>
<path d="M454.7 309.15L462.7 317.15M454.7 317.15L462.7 309.15M458.7 309.15V317.15" stroke="#5CB05C" stroke-width="1" fill="none"/>
<path d="M474.15 309.3L482.15 317.3M474.15 317.3L482.15 309.3M478.15 309.3V317.3" stroke="#5CB05C" stroke-width="1" fill="none"/>
<path d="M493.6 309.4L501.6 317.4M493.6 317.4L501.6 309.4M497.6 309.4V317.4" stroke="#5CB05C" stroke-width="1" fill="none"/>
<path d="M503.32 309.44L511.32 317.44M503.32 317.44L511.32 309.44M507.32 309.44V317.44" stroke="#5CB05C" stroke-width="1" fill="none"/>
<path d="M513.05 309.47L521.05 317.47M513.05 317.47L521.05 309.47M517.05 309.47V317.47" stroke="#5CB05C" stroke-width="1" fill="none"/>
<path d="M522.77 309.49L530.77 317.49M522.77 317.49L530.77 309.49M526.77 309.49V317.49" stroke="#5CB05C" stroke-width="1" fill="none"/>
<path d="M532.5 309.5L540.5 317.5M532.5 317.5L540.5 309.5M536.5 309.5V317.5" stroke="#5CB05C" stroke-width="1" fill="none"/>
<polyline points="69.7,13.6 69.94,21.04 70.19,28.83 70.43,36.97 70.67,45.44 70.92,54.42 71.16,63.74 71.4,73.13 71.64,82.77 71.89,92 72.13,99.9 72.37,106.03 72.62,110.78 72.86,114.78 73.1,117.97 73.35,120.41 73.59,122.62 73.83,124.58 74.08,126.19 74.32,127.4 74.56,128.11 74.81,128.58 75.05,128.97 75.29,129.28 75.53,129.55 75.78,129.77 76.02,129.98 76.26,130.17 76.51,130.36 76.75,130.58 76.99,130.83 77.24,131.13 77.48,131.5 77.72,131.97 77.97,132.57 78.21,133.24 78.45,133.96 78.7,134.68 78.94,135.37 79.18,135.99 79.42,136.5 79.67,136.94 79.91,137.37 80.15,137.78 80.4,138.18 80.64,138.56 80.88,138.93 81.13,139.29 81.37,139.64 81.61,139.98 81.86,140.3 82.1,140.61 82.34,140.92 82.59,141.21 82.83,141.49 83.07,141.76 83.31,142.03 83.56,142.28 83.8,142.53 84.04,142.77 84.29,143 84.53,143.23 84.77,143.45 85.02,143.67 85.26,143.88 85.5,144.09 85.75,144.29 85.99,144.49 86.23,144.69 86.48,144.87 86.72,145.06 86.96,145.23 87.2,145.4 87.45,145.57 87.69,145.72 87.93,145.87 88.18,146.01 88.42,146.15 88.66,146.27 88.91,146.39 89.15,146.5 89.39,146.6 89.64,146.7 89.88,146.79 90.12,146.88 90.37,146.96 90.61,147.04 90.85,147.11 91.09,147.18 91.34,147.25 91.58,147.32 91.82,147.39 92.07,147.45 92.31,147.52 92.55,147.58 92.8,147.65 93.04,147.71 93.28,147.78 93.53,147.85 93.77,147.92 94.01,148 94.26,148.08 94.5,148.16 94.74,148.25 94.98,148.34 95.23,148.43 95.47,148.52 95.71,148.62 95.96,148.71 96.2,148.8 96.44,148.89 96.69,148.98 96.93,149.07 97.17,149.15 97.42,149.23 97.66,149.31 97.9,149.38 98.15,149.44 98.39,149.5 98.63,149.56 98.88,149.6 100.82,149.88 102.77,150.09 104.71,150.27 106.66,150.43 108.6,150.6 110.55,150.76 112.49,150.9 114.44,151.04 116.38,151.23 118.33,151.5 120.27,152.35 122.22,154.05 124.16,156.27 126.11,158.73 128.05,161.1 130,163.53 131.94,166.24 133.88,169.06 135.83,171.84 137.78,174.4 139.72,176.66 141.67,178.74 143.61,180.78 145.56,182.92 147.5,185.3 149.44,188.12 151.39,191.31 153.34,194.62 155.28,197.8 157.23,200.6 159.17,202.98 161.12,205.15 163.06,207.2 165,209.22 166.95,211.3 168.9,213.47 170.84,215.68 172.79,217.87 174.73,219.99 176.68,222 178.62,223.89 180.56,225.69 182.51,227.44 184.46,229.14 186.4,230.8 188.35,232.44 190.29,234.03 192.24,235.59 194.18,237.12 196.12,238.6 198.07,240.04 200.01,241.44 201.96,242.81 203.91,244.16 205.85,245.5 207.8,246.83 209.74,248.15 211.69,249.46 213.63,250.74 215.57,252 217.52,253.25 219.47,254.49 221.41,255.71 223.36,256.89 225.3,258 227.25,259.04 229.19,260.03 231.13,260.99 233.08,261.94 235.03,262.9 236.97,263.88 238.92,264.87 240.86,265.86 242.81,266.84 244.75,267.8 246.69,268.75 248.64,269.7 250.59,270.63 252.53,271.53 254.48,272.4 256.42,273.23 258.37,274.04 260.31,274.82 262.25,275.57 264.2,276.3 266.14,277 268.09,277.66 270.04,278.31 271.98,278.95 273.93,279.6 275.87,280.26 277.81,280.93 279.76,281.59 281.7,282.25 283.65,282.9 285.6,283.55 287.54,284.22 289.49,284.87 291.43,285.47 293.38,286 295.32,286.44 297.26,286.81 299.21,287.17 301.16,287.55 303.1,288 305.05,288.6 306.99,289.33 308.94,290.09 310.88,290.81 312.82,291.4 314.77,291.85 316.72,292.25 318.66,292.62 320.61,292.96 322.55,293.3 324.5,293.64 326.44,293.96 328.38,294.27 330.33,294.58 332.27,294.9 334.22,295.23 336.17,295.56 338.11,295.88 340.06,296.2 342,296.5 343.94,296.78 345.89,297.06 347.83,297.33 349.78,297.57 351.73,297.8 353.67,297.99 355.62,298.16 357.56,298.32 359.5,298.5 361.45,298.7 363.39,298.97 365.34,299.3 367.29,299.65 369.23,299.96 371.18,300.2 373.12,300.38 375.06,300.56 377.01,300.73 378.95,300.9 380.9,301.07 382.84,301.23 384.79,301.39 386.74,301.55 388.68,301.7 390.62,301.84 392.57,301.99 394.51,302.13 396.46,302.26 398.4,302.39 400.35,302.52 402.3,302.64 404.24,302.76 406.19,302.87 408.13,302.98 410.07,303.08 412.02,303.18 413.96,303.28 415.91,303.37 417.86,303.46 419.8,303.54 421.75,303.62 423.69,303.69 425.63,303.76 427.58,303.82 429.52,303.88 431.47,303.93 433.42,303.98 435.36,304.03 437.31,304.07 439.25,304.1 441.19,304.13 443.14,304.16 445.08,304.18 447.03,304.2 448.98,304.22 450.92,304.24 452.87,304.26 454.81,304.28 456.75,304.29 458.7,304.3 460.64,304.32 462.59,304.33 464.54,304.35 466.48,304.37 468.43,304.38 470.37,304.4 472.31,304.42 474.26,304.45 476.2,304.47 478.15,304.5 480.1,304.53 482.04,304.58 483.99,304.62 485.93,304.68 487.88,304.73 489.82,304.79 491.76,304.84 493.71,304.9 495.66,304.95 497.6,305 499.55,305.04 501.49,305.09 503.44,305.13 505.38,305.18 507.32,305.22 509.27,305.26 511.21,305.31 513.16,305.35 515.11,305.39 517.05,305.43 519,305.47 520.94,305.51 522.88,305.55 524.83,305.59 526.77,305.62 528.72,305.66 530.67,305.7 532.61,305.73 534.56,305.77 536.5,305.8" fill="none" stroke="#8000FF" stroke-width="1.9" stroke-linejoin="round"/>
<path d="M70.38 30.21L75.48 35.31L70.38 40.41L65.28 35.31Z" fill="#8000FF"/>
<path d="M70.64 39.3L75.74 44.4L70.64 49.5L65.54 44.4Z" fill="#8000FF"/>
<path d="M70.89 48.22L75.99 53.32L70.89 58.42L65.79 53.32Z" fill="#8000FF"/>
<path d="M71.12 57.32L76.22 62.42L71.12 67.52L66.02 62.42Z" fill="#8000FF"/>
<path d="M71.36 66.35L76.46 71.45L71.36 76.55L66.26 71.45Z" fill="#8000FF"/>
<path d="M71.59 75.31L76.69 80.41L71.59 85.51L66.49 80.41Z" fill="#8000FF"/>
<path d="M71.82 84.32L76.92 89.42L71.82 94.52L66.72 89.42Z" fill="#8000FF"/>
<path d="M72.08 93.31L77.18 98.41L72.08 103.51L66.98 98.41Z" fill="#8000FF"/>
<path d="M72.44 102.23L77.54 107.33L72.44 112.43L67.34 107.33Z" fill="#8000FF"/>
<path d="M72.97 111.19L78.07 116.29L72.97 121.39L67.87 116.29Z" fill="#8000FF"/>
<path d="M73.93 120.14L79.03 125.24L73.93 130.34L68.83 125.24Z" fill="#8000FF"/>
<path d="M77.48 126.4L82.58 131.5L77.48 136.6L72.38 131.5Z" fill="#8000FF"/>
<path d="M78.45 128.86L83.55 133.96L78.45 139.06L73.35 133.96Z" fill="#8000FF"/>
<path d="M79.42 131.4L84.52 136.5L79.42 141.6L74.33 136.5Z" fill="#8000FF"/>
<path d="M80.4 133.08L85.5 138.18L80.4 143.28L75.3 138.18Z" fill="#8000FF"/>
<path d="M81.37 134.54L86.47 139.64L81.37 144.74L76.27 139.64Z" fill="#8000FF"/>
<path d="M82.34 135.82L87.44 140.92L82.34 146.02L77.24 140.92Z" fill="#8000FF"/>
<path d="M83.31 136.93L88.41 142.03L83.31 147.13L78.22 142.03Z" fill="#8000FF"/>
<path d="M84.29 137.9L89.39 143L84.29 148.1L79.19 143Z" fill="#8000FF"/>
<path d="M85.26 138.78L90.36 143.88L85.26 148.98L80.16 143.88Z" fill="#8000FF"/>
<path d="M86.23 139.59L91.33 144.69L86.23 149.79L81.13 144.69Z" fill="#8000FF"/>
<path d="M87.2 140.3L92.3 145.4L87.2 150.5L82.11 145.4Z" fill="#8000FF"/>
<path d="M88.18 140.91L93.28 146.01L88.18 151.11L83.08 146.01Z" fill="#8000FF"/>
<path d="M89.15 141.4L94.25 146.5L89.15 151.6L84.05 146.5Z" fill="#8000FF"/>
<path d="M90.12 141.78L95.22 146.88L90.12 151.98L85.02 146.88Z" fill="#8000FF"/>
<path d="M91.09 142.08L96.19 147.18L91.09 152.28L86 147.18Z" fill="#8000FF"/>
<path d="M92.07 142.35L97.17 147.45L92.07 152.55L86.97 147.45Z" fill="#8000FF"/>
<path d="M93.04 142.61L98.14 147.71L93.04 152.81L87.94 147.71Z" fill="#8000FF"/>
<path d="M94.01 142.9L99.11 148L94.01 153.1L88.91 148Z" fill="#8000FF"/>
<path d="M94.98 143.24L100.08 148.34L94.98 153.44L89.89 148.34Z" fill="#8000FF"/>
<path d="M95.96 143.61L101.06 148.71L95.96 153.81L90.86 148.71Z" fill="#8000FF"/>
<path d="M96.93 143.97L102.03 149.07L96.93 154.17L91.83 149.07Z" fill="#8000FF"/>
<path d="M97.9 144.28L103 149.38L97.9 154.48L92.8 149.38Z" fill="#8000FF"/>
<path d="M98.88 144.5L103.97 149.6L98.88 154.7L93.78 149.6Z" fill="#8000FF"/>
<path d="M108.6 145.5L113.7 150.6L108.6 155.7L103.5 150.6Z" fill="#8000FF"/>
<path d="M118.33 146.4L123.42 151.5L118.33 156.6L113.23 151.5Z" fill="#8000FF"/>
<path d="M128.05 156L133.15 161.1L128.05 166.2L122.95 161.1Z" fill="#8000FF"/>
<path d="M137.78 169.3L142.88 174.4L137.78 179.5L132.68 174.4Z" fill="#8000FF"/>
<path d="M147.5 180.2L152.6 185.3L147.5 190.4L142.4 185.3Z" fill="#8000FF"/>
<path d="M157.23 195.5L162.33 200.6L157.23 205.7L152.13 200.6Z" fill="#8000FF"/>
<path d="M166.95 206.2L172.05 211.3L166.95 216.4L161.85 211.3Z" fill="#8000FF"/>
<path d="M176.68 216.9L181.78 222L176.68 227.1L171.58 222Z" fill="#8000FF"/>
<path d="M186.4 225.7L191.5 230.8L186.4 235.9L181.3 230.8Z" fill="#8000FF"/>
<path d="M196.12 233.5L201.22 238.6L196.12 243.7L191.03 238.6Z" fill="#8000FF"/>
<path d="M205.85 240.4L210.95 245.5L205.85 250.6L200.75 245.5Z" fill="#8000FF"/>
<path d="M215.57 246.9L220.67 252L215.57 257.1L210.47 252Z" fill="#8000FF"/>
<path d="M225.3 252.9L230.4 258L225.3 263.1L220.2 258Z" fill="#8000FF"/>
<path d="M235.03 257.8L240.13 262.9L235.03 268L229.93 262.9Z" fill="#8000FF"/>
<path d="M244.75 262.7L249.85 267.8L244.75 272.9L239.65 267.8Z" fill="#8000FF"/>
<path d="M254.48 267.3L259.58 272.4L254.48 277.5L249.38 272.4Z" fill="#8000FF"/>
<path d="M264.2 271.2L269.3 276.3L264.2 281.4L259.1 276.3Z" fill="#8000FF"/>
<path d="M273.93 274.5L279.03 279.6L273.93 284.7L268.82 279.6Z" fill="#8000FF"/>
<path d="M283.65 277.8L288.75 282.9L283.65 288L278.55 282.9Z" fill="#8000FF"/>
<path d="M293.38 280.9L298.48 286L293.38 291.1L288.27 286Z" fill="#8000FF"/>
<path d="M303.1 282.9L308.2 288L303.1 293.1L298 288Z" fill="#8000FF"/>
<path d="M312.82 286.3L317.93 291.4L312.82 296.5L307.72 291.4Z" fill="#8000FF"/>
<path d="M322.55 288.2L327.65 293.3L322.55 298.4L317.45 293.3Z" fill="#8000FF"/>
<path d="M332.27 289.8L337.38 294.9L332.27 300L327.17 294.9Z" fill="#8000FF"/>
<path d="M342 291.4L347.1 296.5L342 301.6L336.9 296.5Z" fill="#8000FF"/>
<path d="M351.73 292.7L356.83 297.8L351.73 302.9L346.62 297.8Z" fill="#8000FF"/>
<path d="M361.45 293.6L366.55 298.7L361.45 303.8L356.35 298.7Z" fill="#8000FF"/>
<path d="M371.18 295.1L376.28 300.2L371.18 305.3L366.07 300.2Z" fill="#8000FF"/>
<path d="M380.9 295.97L386 301.07L380.9 306.17L375.8 301.07Z" fill="#8000FF"/>
<path d="M390.62 296.74L395.73 301.84L390.62 306.94L385.52 301.84Z" fill="#8000FF"/>
<path d="M400.35 297.42L405.45 302.52L400.35 307.62L395.25 302.52Z" fill="#8000FF"/>
<path d="M410.07 297.98L415.18 303.08L410.07 308.18L404.97 303.08Z" fill="#8000FF"/>
<path d="M419.8 298.44L424.9 303.54L419.8 308.64L414.7 303.54Z" fill="#8000FF"/>
<path d="M429.52 298.78L434.62 303.88L429.52 308.98L424.42 303.88Z" fill="#8000FF"/>
<path d="M439.25 299L444.35 304.1L439.25 309.2L434.15 304.1Z" fill="#8000FF"/>
<path d="M448.98 299.12L454.08 304.22L448.98 309.32L443.88 304.22Z" fill="#8000FF"/>
<path d="M458.7 299.2L463.8 304.3L458.7 309.4L453.6 304.3Z" fill="#8000FF"/>
<path d="M478.15 299.4L483.25 304.5L478.15 309.6L473.05 304.5Z" fill="#8000FF"/>
<path d="M497.6 299.9L502.7 305L497.6 310.1L492.5 305Z" fill="#8000FF"/>
<path d="M507.32 300.12L512.42 305.22L507.32 310.32L502.22 305.22Z" fill="#8000FF"/>
<path d="M517.05 300.33L522.15 305.43L517.05 310.53L511.95 305.43Z" fill="#8000FF"/>
<path d="M526.77 300.52L531.88 305.62L526.77 310.72L521.67 305.62Z" fill="#8000FF"/>
<path d="M536.5 300.7L541.6 305.8L536.5 310.9L531.4 305.8Z" fill="#8000FF"/>
</g>
<g font-family="Liberation Sans, sans-serif" font-size="15" fill="#000">
<text x="59.4" y="353.8" text-anchor="end">2.0</text>
<text x="59.4" y="316.34" text-anchor="end">2.2</text>
<text x="59.4" y="278.89" text-anchor="end">2.4</text>
<text x="59.4" y="241.43" text-anchor="end">2.6</text>
<text x="59.4" y="203.98" text-anchor="end">2.8</text>
<text x="59.4" y="166.52" text-anchor="end">3.0</text>
<text x="59.4" y="129.07" text-anchor="end">3.2</text>
<text x="59.4" y="91.61" text-anchor="end">3.4</text>
<text x="59.4" y="54.16" text-anchor="end">3.6</text>
<text x="59.4" y="16.7" text-anchor="end">3.8</text>
<text x="69.7" y="373.1" text-anchor="middle">0</text>
<text x="128.05" y="373.1" text-anchor="middle">60</text>
<text x="186.4" y="373.1" text-anchor="middle">120</text>
<text x="244.75" y="373.1" text-anchor="middle">180</text>
<text x="303.1" y="373.1" text-anchor="middle">240</text>
<text x="361.45" y="373.1" text-anchor="middle">300</text>
<text x="419.8" y="373.1" text-anchor="middle">360</text>
<text x="478.15" y="373.1" text-anchor="middle">420</text>
<text x="536.5" y="373.1" text-anchor="middle">480</text>
</g>
<text transform="translate(21.4,181.5) rotate(-90) scale(1.015,1)" text-anchor="middle" font-family="Liberation Serif, serif" font-size="21.2">Pressure (MPa)</text>
<text transform="translate(303.9,398.6) scale(1.035,0.98)" text-anchor="middle" font-family="Liberation Serif, serif" font-size="21.2">Time (min)</text>
<g font-family="Liberation Sans, sans-serif" font-size="15" fill="#000">
<rect x="331.1" y="14.6" width="117.9" height="126.8" fill="#fff" stroke="#444" stroke-width="1.6"/>
<path d="M333.1 24.4H367.3" stroke="#000" stroke-width="1.7"/>
<rect x="346.5" y="20.9" width="7" height="7" fill="#000"/>
<text x="374.3" y="30" class="serif">pure water</text>
<path d="M333.1 42.35H367.3" stroke="#FF8000" stroke-width="1.7"/>
<circle cx="350" cy="42.35" r="3.9" fill="#FF8000"/>
<text x="375.3" y="47.05">20</text>
<text x="396.6" y="43.85" class="serif">ppm</text>
<path d="M333.1 60.3H367.3" stroke="#0000FF" stroke-width="1.7"/>
<path d="M346.7 55.4L353.8 60.3L346.7 65.2Z" fill="#0000FF"/>
<text x="375.3" y="65">35</text>
<text x="396.6" y="61.8" class="serif">ppm</text>
<path d="M333.1 78.25H367.3" stroke="#FF0000" stroke-width="1.7"/>
<path d="M350 73.45L351.18 76.63L354.57 76.77L351.9 78.87L352.82 82.13L350 80.25L347.18 82.13L348.1 78.87L345.43 76.77L348.82 76.63Z" fill="#FF0000"/>
<text x="375.3" y="82.95">50</text>
<text x="396.6" y="79.75" class="serif">ppm</text>
<path d="M333.1 96.2H367.3" stroke="#FF00FF" stroke-width="1.7"/>
<circle cx="350" cy="96.2" r="4" fill="#FF00FF"/><circle cx="349" cy="95.2" r="1.2" fill="#FFD0FF"/>
<text x="371.4" y="100.9">100</text>
<text x="401.7" y="97.7" class="serif">ppm</text>
<path d="M333.1 114.15H367.3" stroke="#008000" stroke-width="1.7"/>
<path d="M345.7 109.85L354.3 118.45M345.7 118.45L354.3 109.85" stroke="#4CA64C" stroke-width="1.1" fill="none"/>
<text x="371.4" y="118.85">200</text>
<text x="401.7" y="115.65" class="serif">ppm</text>
<path d="M333.1 132.1H367.3" stroke="#8000FF" stroke-width="1.7"/>
<path d="M350 127L355.1 132.1L350 137.2L344.9 132.1Z" fill="#8000FF"/>
<text x="371.4" y="136.8">300</text>
<text x="401.7" y="133.6" class="serif">ppm</text>
</g>
</svg>
</body></html>
